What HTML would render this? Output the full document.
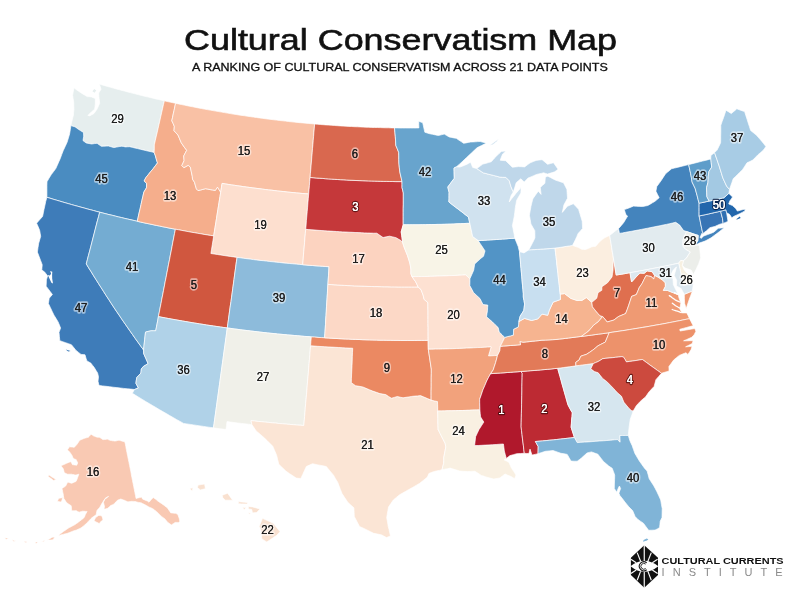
<!DOCTYPE html>
<html><head><meta charset="utf-8"><style>
html,body{margin:0;padding:0;background:#fff;}
body{width:800px;height:600px;overflow:hidden;position:relative;font-family:"Liberation Sans",sans-serif;}
#t{position:absolute;left:0;top:0;will-change:transform;}
.title{position:absolute;left:184px;top:22.5px;font-size:30px;color:#111;white-space:nowrap;letter-spacing:0px;-webkit-text-stroke:0.6px #111;transform:scaleX(1.197);transform-origin:0 0;will-change:transform;}
.sub{position:absolute;left:192px;top:61px;font-size:11px;color:#111;white-space:nowrap;transform:scaleX(1.137);transform-origin:0 0;will-change:transform;-webkit-text-stroke:0.3px #111;}
svg text{font-family:"Liberation Sans",sans-serif;font-size:12.6px;text-anchor:middle;paint-order:stroke;stroke-linejoin:round;}
.lb2{fill:#1e1e1e;stroke:#1e1e1e;stroke-width:0.08px;}
.lw2,.lwb2{fill:#fff;stroke:#fff;stroke-width:0.2px;}
.lb{fill:#1e1e1e;stroke:rgba(255,255,255,0.5);stroke-width:3.4px;}
.lw{fill:#fff;stroke:rgba(60,10,10,0.7);stroke-width:2.6px;}
.lwb{fill:#fff;stroke:rgba(10,25,60,0.8);stroke-width:2.6px;}
</style></head><body>
<div class="title">Cultural Conservatism Map</div>
<div class="sub">A RANKING OF CULTURAL CONSERVATISM ACROSS 21 DATA POINTS</div>
<svg id="t" width="800" height="600" viewBox="0 0 800 600">
<g stroke="rgba(255,255,255,0.9)" stroke-width="0.75" stroke-linejoin="round">
<path fill="#e6eeee" d="M70.9,125.6 71.5,122.8 72.2,119.9 72.8,117.6 73.4,115.3 73.6,112.4 73.9,109.4 73.8,105.7 73.7,102.0 73.1,98.6 72.6,95.3 73.3,91.5 74.0,87.8 76.1,89.5 78.3,91.1 80.5,92.5 82.7,93.9 84.9,95.2 87.2,96.6 89.3,96.7 91.4,96.9 93.3,97.7 95.3,98.4 95.3,101.1 95.3,103.9 95.0,106.5 94.7,109.2 91.4,111.9 87.9,115.4 89.6,115.9 91.8,114.7 94.0,113.5 95.6,111.2 97.1,109.0 98.4,106.1 99.7,103.3 99.3,100.0 98.9,96.7 98.7,93.0 101.0,89.2 100.2,86.6 99.3,84.1 102.1,84.9 104.9,85.7 107.7,86.5 110.5,87.3 113.3,88.1 116.2,88.9 119.0,89.6 121.8,90.4 124.6,91.1 127.5,91.9 130.3,92.6 133.1,93.3 135.9,94.0 138.8,94.8 141.6,95.5 144.4,96.2 147.3,96.8 150.1,97.5 153.0,98.2 155.8,98.9 158.7,99.5 161.5,100.2 164.4,100.8 163.4,104.8 162.5,108.8 161.6,112.8 160.7,116.8 159.8,120.8 158.9,124.8 158.0,128.8 157.1,132.8 156.1,136.9 155.2,140.9 154.3,144.9 154.3,148.9 154.1,152.4 151.4,151.8 148.6,151.2 145.9,150.6 143.2,149.9 140.4,149.3 137.7,148.6 135.0,148.0 132.2,147.3 129.5,146.7 127.4,146.8 125.4,146.9 123.6,146.5 121.8,146.2 119.1,146.6 116.5,147.1 113.8,147.6 111.1,146.8 108.5,146.0 106.1,146.1 103.7,146.2 101.4,146.3 99.2,144.8 97.1,143.3 94.4,143.6 91.7,144.0 89.0,143.5 86.3,143.0 84.6,141.8 83.0,140.6 83.7,136.2 83.5,132.5 80.8,130.8 78.1,129.1 76.6,127.9 75.0,126.8 72.9,126.2 70.9,125.6Z"/>
<path fill="#4a8cc1" d="M70.9,125.6 72.9,126.2 75.0,126.8 76.6,127.9 78.1,129.1 80.8,130.8 83.5,132.5 83.7,136.2 83.0,140.6 84.6,141.8 86.3,143.0 89.0,143.5 91.7,144.0 94.4,143.6 97.1,143.3 99.2,144.8 101.4,146.3 103.7,146.2 106.1,146.1 108.5,146.0 111.1,146.8 113.8,147.6 116.5,147.1 119.1,146.6 121.8,146.2 123.6,146.5 125.4,146.9 127.4,146.8 129.5,146.7 132.2,147.3 135.0,148.0 137.7,148.6 140.4,149.3 143.2,149.9 145.9,150.6 148.6,151.2 151.4,151.8 154.1,152.4 155.4,155.8 156.1,158.5 156.9,161.2 157.5,162.9 155.4,165.7 153.3,168.5 150.7,171.6 148.3,174.6 145.8,177.7 144.1,181.0 146.6,183.3 146.5,187.8 145.1,190.0 143.8,192.2 142.9,196.3 141.9,200.5 141.0,204.6 140.1,208.8 139.1,212.9 138.2,217.1 137.3,221.3 134.1,220.5 131.0,219.8 127.8,219.1 124.7,218.4 121.6,217.6 118.4,216.9 115.3,216.1 112.2,215.3 109.0,214.6 105.9,213.8 102.8,213.0 99.7,212.2 96.5,211.4 93.4,210.5 90.3,209.7 87.2,208.9 84.1,208.0 81.0,207.2 77.9,206.3 74.8,205.5 71.6,204.6 68.5,203.7 65.4,202.8 62.3,201.9 59.3,201.0 56.2,200.1 53.1,199.2 50.0,198.2 46.9,197.3 46.9,193.1 46.9,188.9 46.9,185.3 47.0,181.7 49.1,178.1 51.3,174.5 53.6,171.5 55.8,168.5 57.3,165.2 58.7,162.0 60.2,158.7 61.7,154.6 63.3,150.4 65.2,146.4 67.1,142.3 68.4,138.1 69.6,133.9 70.3,129.7 70.9,125.6Z"/>
<path fill="#3e7cb9" d="M46.9,197.3 50.0,198.2 53.1,199.2 56.2,200.1 59.3,201.0 62.3,201.9 65.4,202.8 68.5,203.7 71.6,204.6 74.8,205.5 77.9,206.3 81.0,207.2 84.1,208.0 87.2,208.9 90.3,209.7 93.4,210.5 96.5,211.4 99.7,212.2 98.6,216.5 97.4,220.8 96.3,225.1 95.2,229.4 94.1,233.7 93.0,238.0 91.9,242.3 90.8,246.6 89.7,250.9 88.5,255.3 87.4,259.6 86.3,263.9 88.7,267.9 91.2,271.8 93.6,275.8 96.1,279.7 98.6,283.7 101.1,287.6 103.6,291.5 106.1,295.5 108.7,299.4 111.2,303.3 113.8,307.3 116.4,311.2 119.1,315.1 121.7,319.0 124.4,322.9 127.1,326.8 129.8,330.7 132.5,334.5 135.2,338.4 138.0,342.3 140.8,346.2 143.6,350.0 143.7,353.7 145.9,358.6 148.1,363.6 145.7,365.1 143.2,366.6 141.3,369.0 140.9,373.1 138.8,375.3 136.8,377.5 136.3,380.4 135.9,383.3 138.4,388.0 134.4,389.5 130.8,389.1 127.3,388.8 123.7,388.4 120.2,388.0 116.7,387.6 113.1,387.2 109.6,386.7 106.0,386.3 102.5,385.9 99.0,385.4 98.0,381.2 98.5,376.8 97.6,372.9 95.9,370.3 94.3,367.6 92.6,365.4 90.8,363.1 88.9,362.0 86.9,360.9 86.0,358.3 85.0,354.8 83.0,354.6 81.0,354.4 78.5,352.4 76.0,350.4 73.7,347.5 71.4,344.7 68.5,343.7 65.6,342.7 62.7,341.7 59.8,340.7 59.4,336.5 59.0,332.3 60.6,328.1 59.4,325.0 58.1,321.9 56.1,318.6 54.0,315.2 52.1,311.3 50.3,307.4 48.4,303.5 48.8,300.9 49.2,298.2 52.4,294.5 50.3,291.7 48.2,288.9 46.1,286.2 46.3,283.0 46.4,279.8 47.6,275.9 46.0,273.8 44.4,271.8 41.8,270.1 42.0,267.4 42.2,264.7 40.6,260.5 39.0,256.3 37.4,252.1 38.0,247.6 38.7,243.2 39.7,239.8 40.7,236.3 40.2,233.4 39.7,230.5 38.2,226.8 36.6,223.2 39.6,219.8 42.6,216.4 43.3,212.9 44.0,209.4 44.9,205.5 45.7,201.6 46.9,197.3Z"/>
<path fill="#74acd2" d="M99.7,212.2 102.8,213.0 105.9,213.8 109.0,214.6 112.2,215.3 115.3,216.1 118.4,216.9 121.6,217.6 124.7,218.4 127.8,219.1 131.0,219.8 134.1,220.5 137.3,221.3 140.4,222.0 143.6,222.7 146.8,223.4 149.9,224.0 153.1,224.7 156.3,225.4 159.5,226.0 162.6,226.7 165.8,227.3 169.0,228.0 172.2,228.6 175.4,229.2 174.5,233.6 173.7,237.9 172.8,242.3 172.0,246.7 171.2,251.0 170.3,255.4 169.5,259.8 168.6,264.1 167.8,268.5 166.9,272.9 166.1,277.3 165.2,281.6 164.4,286.0 163.5,290.4 162.7,294.8 161.8,299.1 161.0,303.5 160.1,307.9 159.3,312.2 158.4,316.6 157.8,320.2 157.1,323.7 156.4,327.3 155.7,330.8 153.4,330.8 151.1,330.8 148.3,331.4 145.5,332.1 145.1,335.7 144.7,339.3 144.3,342.9 143.9,346.5 143.6,350.0 140.8,346.2 138.0,342.3 135.2,338.4 132.5,334.5 129.8,330.7 127.1,326.8 124.4,322.9 121.7,319.0 119.1,315.1 116.4,311.2 113.8,307.3 111.2,303.3 108.7,299.4 106.1,295.5 103.6,291.5 101.1,287.6 98.6,283.7 96.1,279.7 93.6,275.8 91.2,271.8 88.7,267.9 86.3,263.9 87.4,259.6 88.5,255.3 89.7,250.9 90.8,246.6 91.9,242.3 93.0,238.0 94.1,233.7 95.2,229.4 96.3,225.1 97.4,220.8 98.6,216.5 99.7,212.2Z"/>
<path fill="#f5ae8c" d="M164.4,100.8 167.2,101.5 170.0,102.1 172.8,102.7 175.6,103.3 174.8,106.8 174.1,110.3 173.3,113.7 172.6,117.2 171.8,120.7 173.1,123.5 174.3,126.3 174.0,130.7 176.0,132.9 178.0,135.1 179.7,139.0 181.3,142.9 182.8,145.0 184.2,147.1 186.7,150.3 185.2,153.1 183.7,156.0 184.1,160.5 183.0,163.0 181.8,165.5 183.9,167.7 186.0,166.5 188.2,165.3 190.3,167.1 191.3,171.8 192.3,176.5 192.5,179.2 194.5,182.3 195.4,185.6 196.4,188.9 198.0,190.6 200.5,190.0 202.9,189.4 205.4,188.7 207.9,189.1 210.3,189.6 212.8,190.0 215.3,190.4 217.5,187.1 219.1,189.7 220.7,192.2 220.0,196.5 219.3,200.9 218.6,205.3 217.9,209.6 217.2,214.0 216.5,218.4 215.8,222.8 215.1,227.2 214.4,231.6 213.7,235.9 210.5,235.4 207.3,234.9 204.1,234.4 200.9,233.8 197.7,233.3 194.5,232.7 191.3,232.2 188.1,231.6 184.9,231.0 181.8,230.4 178.6,229.8 175.4,229.2 172.2,228.6 169.0,228.0 165.8,227.3 162.6,226.7 159.5,226.0 156.3,225.4 153.1,224.7 149.9,224.0 146.8,223.4 143.6,222.7 140.4,222.0 137.3,221.3 138.2,217.1 139.1,212.9 140.1,208.8 141.0,204.6 141.9,200.5 142.9,196.3 143.8,192.2 145.1,190.0 146.5,187.8 146.6,183.3 144.1,181.0 145.8,177.7 148.3,174.6 150.7,171.6 153.3,168.5 155.4,165.7 157.5,162.9 156.9,161.2 156.1,158.5 155.4,155.8 154.1,152.4 154.3,148.9 154.3,144.9 155.2,140.9 156.1,136.9 157.1,132.8 158.0,128.8 158.9,124.8 159.8,120.8 160.7,116.8 161.6,112.8 162.5,108.8 163.4,104.8 164.4,100.8Z"/>
<path fill="#f9c1a5" d="M175.6,103.3 178.4,103.9 181.3,104.5 184.2,105.1 187.1,105.7 189.9,106.3 192.8,106.8 195.7,107.4 198.6,108.0 201.4,108.5 204.3,109.1 207.2,109.6 210.1,110.1 213.0,110.6 215.8,111.1 218.7,111.6 221.6,112.1 224.5,112.6 227.4,113.1 230.3,113.6 233.2,114.1 236.1,114.5 239.0,115.0 241.9,115.4 244.8,115.8 247.7,116.3 250.6,116.7 253.5,117.1 256.4,117.5 259.3,117.9 262.2,118.3 265.1,118.7 268.0,119.1 270.9,119.4 273.8,119.8 276.7,120.1 279.6,120.5 282.6,120.8 285.5,121.1 288.4,121.5 291.3,121.8 294.2,122.1 297.1,122.4 300.0,122.7 303.0,122.9 305.9,123.2 308.8,123.5 311.7,123.7 314.6,124.0 314.3,128.1 313.9,132.2 313.6,136.3 313.2,140.4 312.9,144.5 312.5,148.6 312.2,152.7 311.8,156.8 311.5,161.0 311.1,165.1 310.8,169.2 310.4,173.3 310.1,177.5 309.7,181.6 309.4,185.7 309.0,189.9 308.7,194.0 305.6,193.7 302.5,193.5 299.4,193.2 296.3,192.9 293.2,192.6 290.1,192.3 287.0,192.0 283.9,191.6 280.8,191.3 277.7,191.0 274.6,190.6 271.5,190.2 268.4,189.9 265.3,189.5 262.2,189.1 259.1,188.7 256.0,188.3 252.9,187.9 249.9,187.5 246.8,187.1 243.7,186.7 240.6,186.2 237.5,185.8 234.4,185.3 231.3,184.9 228.3,184.4 225.2,183.9 222.1,183.4 221.4,187.8 220.7,192.2 219.1,189.7 217.5,187.1 215.3,190.4 212.8,190.0 210.3,189.6 207.9,189.1 205.4,188.7 202.9,189.4 200.5,190.0 198.0,190.6 196.4,188.9 195.4,185.6 194.5,182.3 192.5,179.2 192.3,176.5 191.3,171.8 190.3,167.1 188.2,165.3 186.0,166.5 183.9,167.7 181.8,165.5 183.0,163.0 184.1,160.5 183.7,156.0 185.2,153.1 186.7,150.3 184.2,147.1 182.8,145.0 181.3,142.9 179.7,139.0 178.0,135.1 176.0,132.9 174.0,130.7 174.3,126.3 173.1,123.5 171.8,120.7 172.6,117.2 173.3,113.7 174.1,110.3 174.8,106.8 175.6,103.3Z"/>
<path fill="#fddfcf" d="M220.7,192.2 221.4,187.8 222.1,183.4 225.2,183.9 228.3,184.4 231.3,184.9 234.4,185.3 237.5,185.8 240.6,186.2 243.7,186.7 246.8,187.1 249.9,187.5 252.9,187.9 256.0,188.3 259.1,188.7 262.2,189.1 265.3,189.5 268.4,189.9 271.5,190.2 274.6,190.6 277.7,191.0 280.8,191.3 283.9,191.6 287.0,192.0 290.1,192.3 293.2,192.6 296.3,192.9 299.4,193.2 302.5,193.5 305.6,193.7 308.7,194.0 308.3,198.4 307.9,202.8 307.6,207.2 307.2,211.6 306.8,216.0 306.4,220.5 306.1,224.9 305.7,229.3 305.3,233.7 304.9,238.1 304.6,242.6 304.2,247.0 303.8,251.4 303.4,255.9 303.1,260.3 302.7,264.7 299.4,264.4 296.1,264.1 292.8,263.8 289.5,263.5 286.2,263.2 283.0,262.9 279.7,262.5 276.4,262.2 273.1,261.8 269.8,261.5 266.5,261.1 263.3,260.7 260.0,260.4 256.7,260.0 253.4,259.6 250.1,259.1 246.9,258.7 243.6,258.3 240.3,257.8 237.1,257.4 233.8,256.9 230.5,256.5 227.2,256.0 224.0,255.5 220.7,255.0 217.4,254.5 214.2,254.0 210.9,253.5 211.6,249.1 212.3,244.7 213.0,240.3 213.7,235.9 214.4,231.6 215.1,227.2 215.8,222.8 216.5,218.4 217.2,214.0 217.9,209.6 218.6,205.3 219.3,200.9 220.0,196.5 220.7,192.2Z"/>
<path fill="#d0573f" d="M175.4,229.2 178.6,229.8 181.8,230.4 184.9,231.0 188.1,231.6 191.3,232.2 194.5,232.7 197.7,233.3 200.9,233.8 204.1,234.4 207.3,234.9 210.5,235.4 213.7,235.9 213.0,240.3 212.3,244.7 211.6,249.1 210.9,253.5 214.2,254.0 217.4,254.5 220.7,255.0 224.0,255.5 227.2,256.0 230.5,256.5 233.8,256.9 237.1,257.4 236.4,261.8 235.8,266.2 235.2,270.6 234.6,275.0 234.0,279.4 233.4,283.9 232.8,288.3 232.2,292.7 231.6,297.1 231.0,301.5 230.3,305.9 229.7,310.3 229.1,314.7 228.5,319.2 227.9,323.6 227.3,328.0 223.8,327.5 220.4,327.0 216.9,326.5 213.5,326.0 210.0,325.5 206.6,325.0 203.1,324.4 199.7,323.9 196.2,323.3 192.8,322.8 189.4,322.2 185.9,321.6 182.5,321.0 179.0,320.4 175.6,319.8 172.2,319.2 168.7,318.6 165.3,317.9 161.9,317.3 158.4,316.6 159.3,312.2 160.1,307.9 161.0,303.5 161.8,299.1 162.7,294.8 163.5,290.4 164.4,286.0 165.2,281.6 166.1,277.3 166.9,272.9 167.8,268.5 168.6,264.1 169.5,259.8 170.3,255.4 171.2,251.0 172.0,246.7 172.8,242.3 173.7,237.9 174.5,233.6 175.4,229.2Z"/>
<path fill="#8dbbdb" d="M237.1,257.4 240.3,257.8 243.6,258.3 246.9,258.7 250.1,259.1 253.4,259.6 256.7,260.0 260.0,260.4 263.3,260.7 266.5,261.1 269.8,261.5 273.1,261.8 276.4,262.2 279.7,262.5 283.0,262.9 286.2,263.2 289.5,263.5 292.8,263.8 296.1,264.1 299.4,264.4 302.7,264.7 306.0,265.0 309.3,265.3 312.6,265.5 315.9,265.8 319.2,266.0 322.4,266.2 325.7,266.5 329.0,266.7 328.8,271.1 328.5,275.6 328.2,280.0 327.9,284.4 327.6,288.9 327.4,293.3 327.1,297.8 326.8,302.2 326.5,306.7 326.3,311.1 326.0,315.6 325.7,320.0 325.5,324.5 325.2,328.9 324.9,333.4 324.6,337.8 321.3,337.6 318.0,337.4 314.6,337.1 311.3,336.9 307.9,336.6 304.5,336.4 301.2,336.1 297.8,335.8 294.4,335.5 291.1,335.2 287.7,334.9 284.3,334.6 281.0,334.3 277.6,334.0 274.3,333.6 270.9,333.3 267.5,332.9 264.2,332.6 260.8,332.2 257.5,331.8 254.1,331.4 250.8,331.0 247.4,330.6 244.0,330.2 240.7,329.8 237.3,329.3 234.0,328.9 230.6,328.4 227.3,328.0 227.9,323.6 228.5,319.2 229.1,314.7 229.7,310.3 230.3,305.9 231.0,301.5 231.6,297.1 232.2,292.7 232.8,288.3 233.4,283.9 234.0,279.4 234.6,275.0 235.2,270.6 235.8,266.2 236.4,261.8 237.1,257.4Z"/>
<path fill="#b0d2e8" d="M158.4,316.6 161.9,317.3 165.3,317.9 168.7,318.6 172.2,319.2 175.6,319.8 179.0,320.4 182.5,321.0 185.9,321.6 189.4,322.2 192.8,322.8 196.2,323.3 199.7,323.9 203.1,324.4 206.6,325.0 210.0,325.5 213.5,326.0 216.9,326.5 220.4,327.0 223.8,327.5 227.3,328.0 226.7,332.3 226.1,336.7 225.5,341.0 224.9,345.4 224.3,349.7 223.7,354.1 223.1,358.4 222.5,362.8 221.9,367.1 221.3,371.5 220.7,375.8 220.1,380.2 219.5,384.5 218.9,388.8 218.3,393.2 217.7,397.5 217.1,401.9 216.5,406.2 215.9,410.5 215.3,414.9 214.7,419.2 214.1,423.5 213.5,427.8 210.2,427.4 206.8,426.9 203.5,426.4 200.2,425.9 196.8,425.4 193.5,424.9 190.2,424.4 186.8,423.9 183.5,423.4 180.0,421.4 176.5,419.5 173.1,417.5 169.6,415.5 166.2,413.5 162.8,411.6 159.3,409.6 155.9,407.5 152.5,405.5 149.1,403.5 145.7,401.5 142.3,399.4 139.0,397.4 135.6,395.3 132.3,393.3 134.4,389.5 138.4,388.0 135.9,383.3 136.3,380.4 136.8,377.5 138.8,375.3 140.9,373.1 141.3,369.0 143.2,366.6 145.7,365.1 148.1,363.6 145.9,358.6 143.7,353.7 143.6,350.0 143.9,346.5 144.3,342.9 144.7,339.3 145.1,335.7 145.5,332.1 148.3,331.4 151.1,330.8 153.4,330.8 155.7,330.8 156.4,327.3 157.1,323.7 157.8,320.2 158.4,316.6Z"/>
<path fill="#f0f0e9" d="M227.3,328.0 230.6,328.4 234.0,328.9 237.3,329.3 240.7,329.8 244.0,330.2 247.4,330.6 250.8,331.0 254.1,331.4 257.5,331.8 260.8,332.2 264.2,332.6 267.5,332.9 270.9,333.3 274.3,333.6 277.6,334.0 281.0,334.3 284.3,334.6 287.7,334.9 291.1,335.2 294.4,335.5 297.8,335.8 301.2,336.1 304.5,336.4 307.9,336.6 311.3,336.9 310.9,341.3 310.6,345.8 310.2,350.2 309.9,354.6 309.5,359.1 309.1,363.5 308.7,368.0 308.4,372.4 308.0,376.8 307.6,381.3 307.2,385.7 306.9,390.1 306.5,394.5 306.1,399.0 305.7,403.4 305.3,407.8 305.0,412.2 304.6,416.7 304.2,421.1 303.8,425.5 300.3,425.2 296.8,425.0 293.3,424.7 289.7,424.4 286.2,424.1 282.7,423.8 279.2,423.5 275.7,423.1 272.1,422.8 268.6,422.4 265.1,422.1 261.6,421.7 258.1,421.4 254.6,421.0 251.0,420.6 251.9,424.6 248.4,424.2 244.8,423.8 241.3,423.4 237.7,423.0 234.1,422.5 230.6,422.1 227.0,421.6 226.5,425.6 226.0,429.5 222.9,429.1 219.8,428.7 216.6,428.3 213.5,427.8 214.1,423.5 214.7,419.2 215.3,414.9 215.9,410.5 216.5,406.2 217.1,401.9 217.7,397.5 218.3,393.2 218.9,388.8 219.5,384.5 220.1,380.2 220.7,375.8 221.3,371.5 221.9,367.1 222.5,362.8 223.1,358.4 223.7,354.1 224.3,349.7 224.9,345.4 225.5,341.0 226.1,336.7 226.7,332.3 227.3,328.0Z"/>
<path fill="#fbe5d5" d="M251.9,424.6 251.0,420.6 254.6,421.0 258.1,421.4 261.6,421.7 265.1,422.1 268.6,422.4 272.1,422.8 275.7,423.1 279.2,423.5 282.7,423.8 286.2,424.1 289.7,424.4 293.3,424.7 296.8,425.0 300.3,425.2 303.8,425.5 304.2,421.1 304.6,416.7 305.0,412.2 305.3,407.8 305.7,403.4 306.1,399.0 306.5,394.5 306.9,390.1 307.2,385.7 307.6,381.3 308.0,376.8 308.4,372.4 308.7,368.0 309.1,363.5 309.5,359.1 309.9,354.6 310.2,350.2 310.6,345.8 314.1,346.0 317.6,346.3 321.1,346.5 324.6,346.7 328.1,346.9 331.7,347.1 335.2,347.3 338.7,347.5 342.2,347.7 345.7,347.9 349.2,348.1 352.7,348.2 352.5,352.5 352.3,356.8 352.2,361.2 352.0,365.5 351.8,369.8 351.6,374.1 351.4,378.4 351.3,382.7 353.4,384.2 355.5,385.7 359.1,386.3 362.7,386.9 366.0,388.3 369.3,389.7 372.7,391.1 376.3,392.3 379.9,393.6 382.8,394.1 385.7,394.6 388.5,396.4 391.4,398.2 394.3,397.4 397.3,396.5 400.2,397.2 403.1,397.8 406.0,397.3 408.9,396.9 411.8,396.4 414.7,396.1 417.6,395.9 420.5,395.6 424.0,397.1 427.6,398.6 431.1,400.1 434.3,400.9 437.5,401.6 437.6,404.7 437.7,407.9 437.7,411.0 437.8,414.7 437.9,418.3 437.9,422.0 438.0,425.6 438.1,429.3 439.7,432.7 441.4,436.1 443.2,439.6 445.0,443.1 445.8,446.7 445.2,450.2 444.5,453.8 443.8,457.3 443.8,460.3 443.7,463.3 442.8,466.5 442.0,469.7 439.2,470.4 436.3,471.0 433.4,471.7 431.2,472.6 428.9,473.5 427.4,477.1 423.6,480.2 419.7,483.3 416.1,485.4 412.5,487.5 408.9,489.5 405.8,491.3 402.7,493.0 399.6,494.8 396.4,497.4 393.3,500.0 390.9,503.5 388.5,507.0 387.9,510.5 387.3,514.0 386.7,517.5 387.5,521.9 388.2,526.3 389.0,529.5 389.7,532.7 390.5,535.9 386.5,537.6 384.1,536.3 381.7,534.9 377.7,534.1 373.7,533.3 370.6,531.8 367.4,530.2 363.5,528.3 359.5,526.5 357.8,523.2 356.1,519.9 354.3,516.6 354.1,512.2 353.9,507.8 350.8,505.1 347.8,502.3 344.8,497.8 341.9,493.3 340.5,489.7 339.1,486.1 337.8,482.5 335.6,478.9 333.5,475.2 329.9,470.9 326.3,466.5 322.9,465.8 319.5,465.2 316.0,464.5 312.6,463.7 309.5,465.1 306.3,466.5 304.5,470.5 302.7,474.5 300.8,478.5 298.5,478.3 296.2,478.1 292.8,475.8 289.3,473.5 285.9,471.1 282.4,467.7 278.8,464.3 277.7,459.8 276.6,455.2 274.7,450.8 272.8,446.3 270.1,443.6 267.3,440.8 264.5,438.1 261.8,435.7 259.0,433.3 256.2,431.0 254.1,427.8 251.9,424.6Z"/>
<path fill="#eb8962" d="M311.3,336.9 314.6,337.1 318.0,337.4 321.3,337.6 324.6,337.8 328.1,338.0 331.5,338.2 335.0,338.4 338.4,338.6 341.9,338.8 345.3,339.0 348.8,339.1 352.2,339.3 355.7,339.4 359.1,339.5 362.6,339.7 366.0,339.8 369.5,339.9 372.9,340.0 376.4,340.1 379.8,340.2 383.3,340.2 386.7,340.3 390.2,340.3 393.6,340.4 397.1,340.4 400.5,340.5 404.0,340.5 407.5,340.5 410.9,340.5 414.4,340.5 417.8,340.4 421.3,340.4 424.7,340.4 428.2,340.3 428.2,344.8 428.3,349.2 428.9,353.2 429.5,357.1 430.1,361.1 430.7,365.0 431.3,369.0 431.3,373.4 431.2,377.9 431.2,382.3 431.2,386.8 431.1,391.2 431.1,395.7 431.1,400.1 427.6,398.6 424.0,397.1 420.5,395.6 417.6,395.9 414.7,396.1 411.8,396.4 408.9,396.9 406.0,397.3 403.1,397.8 400.2,397.2 397.3,396.5 394.3,397.4 391.4,398.2 388.5,396.4 385.7,394.6 382.8,394.1 379.9,393.6 376.3,392.3 372.7,391.1 369.3,389.7 366.0,388.3 362.7,386.9 359.1,386.3 355.5,385.7 353.4,384.2 351.3,382.7 351.4,378.4 351.6,374.1 351.8,369.8 352.0,365.5 352.2,361.2 352.3,356.8 352.5,352.5 352.7,348.2 349.2,348.1 345.7,347.9 342.2,347.7 338.7,347.5 335.2,347.3 331.7,347.1 328.1,346.9 324.6,346.7 321.1,346.5 317.6,346.3 314.1,346.0 310.6,345.8 310.9,341.3 311.3,336.9Z"/>
<path fill="#fcd8c6" d="M324.6,337.8 324.9,333.4 325.2,328.9 325.5,324.5 325.7,320.0 326.0,315.6 326.3,311.1 326.5,306.7 326.8,302.2 327.1,297.8 327.4,293.3 327.6,288.9 327.9,284.4 331.2,284.6 334.6,284.8 337.9,285.0 341.3,285.2 344.6,285.4 347.9,285.6 351.3,285.7 354.6,285.9 358.0,286.0 361.3,286.1 364.6,286.2 368.0,286.4 371.3,286.5 374.7,286.6 378.0,286.6 381.4,286.7 384.7,286.8 388.0,286.8 391.4,286.9 394.7,286.9 398.1,287.0 401.4,287.0 404.8,287.0 408.1,287.0 411.5,287.0 414.8,287.0 418.1,287.0 421.0,289.6 422.0,292.3 423.1,295.0 424.1,299.4 426.0,301.0 427.9,302.6 427.9,306.8 428.0,311.0 428.0,315.1 428.0,319.3 428.0,323.5 428.1,327.7 428.1,331.9 428.1,336.1 428.2,340.3 424.7,340.4 421.3,340.4 417.8,340.4 414.4,340.5 410.9,340.5 407.5,340.5 404.0,340.5 400.5,340.5 397.1,340.4 393.6,340.4 390.2,340.3 386.7,340.3 383.3,340.2 379.8,340.2 376.4,340.1 372.9,340.0 369.5,339.9 366.0,339.8 362.6,339.7 359.1,339.5 355.7,339.4 352.2,339.3 348.8,339.1 345.3,339.0 341.9,338.8 338.4,338.6 335.0,338.4 331.5,338.2 328.1,338.0 324.6,337.8Z"/>
<path fill="#fcd3c0" d="M305.7,229.3 305.3,233.7 304.9,238.1 304.6,242.6 304.2,247.0 303.8,251.4 303.4,255.9 303.1,260.3 302.7,264.7 306.0,265.0 309.3,265.3 312.6,265.5 315.9,265.8 319.2,266.0 322.4,266.2 325.7,266.5 329.0,266.7 328.8,271.1 328.5,275.6 328.2,280.0 327.9,284.4 331.2,284.6 334.6,284.8 337.9,285.0 341.3,285.2 344.6,285.4 347.9,285.6 351.3,285.7 354.6,285.9 358.0,286.0 361.3,286.1 364.6,286.2 368.0,286.4 371.3,286.5 374.7,286.6 378.0,286.6 381.4,286.7 384.7,286.8 388.0,286.8 391.4,286.9 394.7,286.9 398.1,287.0 401.4,287.0 404.8,287.0 408.1,287.0 411.5,287.0 414.8,287.0 418.1,287.0 416.9,284.3 415.6,281.7 413.8,279.2 412.0,276.7 410.9,273.7 410.9,269.2 410.4,266.1 409.8,263.0 408.7,259.4 407.6,255.9 406.0,251.9 404.4,247.9 403.5,245.3 402.7,242.7 401.2,240.7 398.6,239.2 396.0,237.7 392.8,236.9 389.6,236.2 386.4,236.8 383.1,237.5 380.0,235.4 376.8,233.2 373.7,233.2 370.6,233.1 367.5,233.0 364.4,232.9 361.3,232.7 358.2,232.6 355.1,232.5 352.1,232.3 349.0,232.2 345.9,232.0 342.8,231.9 339.7,231.7 336.6,231.5 333.5,231.3 330.4,231.1 327.3,230.9 324.2,230.7 321.1,230.5 318.0,230.3 315.0,230.0 311.9,229.8 308.8,229.6 305.7,229.3Z"/>
<path fill="#c5383a" d="M308.7,194.0 309.0,189.9 309.4,185.7 309.7,181.6 310.1,177.5 313.2,177.7 316.2,178.0 319.3,178.2 322.3,178.4 325.4,178.7 328.5,178.9 331.5,179.1 334.6,179.3 337.6,179.5 340.7,179.7 343.8,179.8 346.8,180.0 349.9,180.2 353.0,180.3 356.0,180.5 359.1,180.6 362.1,180.7 365.2,180.8 368.3,180.9 371.3,181.0 374.4,181.1 377.5,181.2 380.5,181.3 383.6,181.4 386.7,181.4 389.7,181.5 392.8,181.5 395.9,181.6 399.0,181.6 402.0,181.6 402.0,184.6 402.0,187.6 402.7,190.3 403.3,192.9 403.3,196.9 403.3,200.9 403.3,204.9 403.2,208.8 403.2,212.8 403.2,216.8 403.2,220.8 403.2,224.8 402.2,228.3 401.2,231.9 401.7,235.5 402.2,239.1 402.7,242.7 401.2,240.7 398.6,239.2 396.0,237.7 392.8,236.9 389.6,236.2 386.4,236.8 383.1,237.5 380.0,235.4 376.8,233.2 373.7,233.2 370.6,233.1 367.5,233.0 364.4,232.9 361.3,232.7 358.2,232.6 355.1,232.5 352.1,232.3 349.0,232.2 345.9,232.0 342.8,231.9 339.7,231.7 336.6,231.5 333.5,231.3 330.4,231.1 327.3,230.9 324.2,230.7 321.1,230.5 318.0,230.3 315.0,230.0 311.9,229.8 308.8,229.6 305.7,229.3 306.1,224.9 306.4,220.5 306.8,216.0 307.2,211.6 307.6,207.2 307.9,202.8 308.3,198.4 308.7,194.0Z"/>
<path fill="#d9684f" d="M314.6,124.0 317.5,124.2 320.3,124.5 323.2,124.7 326.0,124.9 328.9,125.1 331.7,125.3 334.6,125.5 337.4,125.7 340.3,125.9 343.1,126.1 346.0,126.2 348.8,126.4 351.7,126.5 354.5,126.7 357.4,126.8 360.2,126.9 363.1,127.1 365.9,127.2 368.8,127.3 371.6,127.4 374.5,127.5 377.4,127.5 380.2,127.6 383.1,127.7 385.9,127.8 388.8,127.8 391.6,127.9 394.5,127.9 394.9,132.3 395.3,136.6 395.6,141.0 395.8,145.4 397.3,148.9 398.7,152.4 398.8,155.9 398.8,159.4 398.9,163.0 399.3,167.4 399.8,171.8 400.5,175.0 401.3,178.3 402.0,181.6 399.0,181.6 395.9,181.6 392.8,181.5 389.7,181.5 386.7,181.4 383.6,181.4 380.5,181.3 377.5,181.2 374.4,181.1 371.3,181.0 368.3,180.9 365.2,180.8 362.1,180.7 359.1,180.6 356.0,180.5 353.0,180.3 349.9,180.2 346.8,180.0 343.8,179.8 340.7,179.7 337.6,179.5 334.6,179.3 331.5,179.1 328.5,178.9 325.4,178.7 322.3,178.4 319.3,178.2 316.2,178.0 313.2,177.7 310.1,177.5 310.4,173.3 310.8,169.2 311.1,165.1 311.5,161.0 311.8,156.8 312.2,152.7 312.5,148.6 312.9,144.5 313.2,140.4 313.6,136.3 313.9,132.2 314.3,128.1 314.6,124.0Z"/>
<path fill="#68a4cd" d="M394.5,127.9 397.2,127.9 399.9,128.0 402.6,128.0 405.3,128.0 408.0,128.0 410.7,128.0 413.4,128.0 416.2,128.0 418.9,127.9 418.8,124.6 418.8,121.3 420.7,122.0 422.7,122.7 423.4,125.9 424.1,129.1 424.8,132.2 427.2,133.0 429.5,133.7 432.5,134.3 435.4,134.9 438.4,135.5 441.3,134.8 444.3,134.1 446.7,135.5 449.1,136.9 451.5,137.4 453.9,137.9 456.3,138.3 458.7,140.0 461.2,141.6 463.6,143.3 466.0,142.9 468.3,142.4 470.7,142.0 473.1,141.9 475.4,141.8 477.8,141.6 480.2,141.5 483.2,142.3 486.3,143.2 484.0,144.3 481.6,145.5 479.3,146.6 477.0,147.8 474.3,150.3 471.7,152.8 469.0,155.3 466.7,157.4 464.4,159.6 462.1,161.8 459.2,164.4 456.3,166.9 454.0,168.1 454.1,171.5 454.2,174.9 454.3,178.3 452.1,181.2 450.0,184.1 447.8,187.0 448.4,189.6 449.1,192.3 449.0,195.5 449.0,198.7 448.9,202.0 452.1,204.5 455.4,207.1 458.3,209.2 461.2,211.4 463.6,213.3 466.0,215.2 468.5,217.1 469.1,220.2 469.8,223.3 466.6,223.4 463.4,223.6 460.3,223.7 457.1,223.8 453.9,224.0 450.8,224.1 447.6,224.2 444.4,224.3 441.2,224.4 438.1,224.4 434.9,224.5 431.7,224.6 428.6,224.6 425.4,224.7 422.2,224.7 419.0,224.8 415.9,224.8 412.7,224.8 409.5,224.8 406.3,224.8 403.2,224.8 403.2,220.8 403.2,216.8 403.2,212.8 403.2,208.8 403.3,204.9 403.3,200.9 403.3,196.9 403.3,192.9 402.7,190.3 402.0,187.6 402.0,184.6 402.0,181.6 401.3,178.3 400.5,175.0 399.8,171.8 399.3,167.4 398.9,163.0 398.8,159.4 398.8,155.9 398.7,152.4 397.3,148.9 395.8,145.4 395.6,141.0 395.3,136.6 394.9,132.3 394.5,127.9Z"/>
<path fill="#f8f4e7" d="M403.2,224.8 406.3,224.8 409.5,224.8 412.7,224.8 415.9,224.8 419.0,224.8 422.2,224.7 425.4,224.7 428.6,224.6 431.7,224.6 434.9,224.5 438.1,224.4 441.2,224.4 444.4,224.3 447.6,224.2 450.8,224.1 453.9,224.0 457.1,223.8 460.3,223.7 463.4,223.6 466.6,223.4 469.8,223.3 470.4,225.9 470.9,228.5 471.8,232.5 472.6,236.4 475.4,238.5 478.2,240.6 479.9,243.2 481.6,245.7 483.3,248.3 485.0,250.9 484.3,253.6 483.5,256.3 481.0,258.2 477.9,261.1 474.7,263.9 474.2,267.1 473.7,270.2 471.8,274.5 469.9,278.8 467.8,276.8 465.6,274.9 462.4,275.1 459.3,275.2 456.1,275.4 453.0,275.5 449.8,275.6 446.7,275.8 443.5,275.9 440.4,276.0 437.2,276.1 434.1,276.2 430.9,276.3 427.7,276.4 424.6,276.5 421.4,276.5 418.3,276.6 415.1,276.6 412.0,276.7 410.9,273.7 410.9,269.2 410.4,266.1 409.8,263.0 408.7,259.4 407.6,255.9 406.0,251.9 404.4,247.9 403.5,245.3 402.7,242.7 402.2,239.1 401.7,235.5 401.2,231.9 402.2,228.3 403.2,224.8Z"/>
<path fill="#fde1d2" d="M412.0,276.7 415.1,276.6 418.3,276.6 421.4,276.5 424.6,276.5 427.7,276.4 430.9,276.3 434.1,276.2 437.2,276.1 440.4,276.0 443.5,275.9 446.7,275.8 449.8,275.6 453.0,275.5 456.1,275.4 459.3,275.2 462.4,275.1 465.6,274.9 467.8,276.8 469.9,278.8 469.9,282.2 469.8,285.6 471.7,289.0 473.5,292.5 476.7,295.5 479.9,298.4 481.5,301.5 483.0,304.5 485.4,304.8 487.8,305.1 487.6,307.8 487.5,310.5 487.0,313.6 486.5,316.8 489.4,319.3 492.3,321.8 495.2,324.7 498.2,327.6 499.2,332.0 502.0,334.7 504.7,337.4 502.7,341.6 500.3,346.3 499.8,350.8 497.5,355.4 494.5,355.6 491.5,355.8 488.5,355.9 489.8,351.4 491.1,346.9 487.6,347.1 484.1,347.3 480.6,347.5 477.1,347.6 473.6,347.8 470.2,348.0 466.7,348.1 463.2,348.3 459.7,348.4 456.2,348.5 452.7,348.7 449.2,348.8 445.7,348.9 442.3,349.0 438.8,349.1 435.3,349.1 431.8,349.2 428.3,349.2 428.2,344.8 428.2,340.3 428.1,336.1 428.1,331.9 428.1,327.7 428.0,323.5 428.0,319.3 428.0,315.1 428.0,311.0 427.9,306.8 427.9,302.6 426.0,301.0 424.1,299.4 423.1,295.0 422.0,292.3 421.0,289.6 418.1,287.0 416.9,284.3 415.6,281.7 413.8,279.2 412.0,276.7Z"/>
<path fill="#f2a27c" d="M428.3,349.2 431.8,349.2 435.3,349.1 438.8,349.1 442.3,349.0 445.7,348.9 449.2,348.8 452.7,348.7 456.2,348.5 459.7,348.4 463.2,348.3 466.7,348.1 470.2,348.0 473.6,347.8 477.1,347.6 480.6,347.5 484.1,347.3 487.6,347.1 491.1,346.9 489.8,351.4 488.5,355.9 491.5,355.8 494.5,355.6 497.5,355.4 496.6,359.0 495.6,362.6 494.4,366.3 493.2,369.9 490.6,373.7 488.6,377.3 486.7,381.0 484.8,385.6 482.8,390.1 481.3,394.7 479.7,399.2 479.7,402.8 479.8,406.3 479.9,409.9 476.4,410.0 472.9,410.1 469.4,410.3 465.9,410.4 462.3,410.5 458.8,410.6 455.3,410.7 451.8,410.8 448.3,410.8 444.8,410.9 441.2,411.0 437.7,411.0 437.7,407.9 437.6,404.7 437.5,401.6 434.3,400.9 431.1,400.1 431.1,395.7 431.1,391.2 431.2,386.8 431.2,382.3 431.2,377.9 431.3,373.4 431.3,369.0 430.7,365.0 430.1,361.1 429.5,357.1 428.9,353.2 428.3,349.2Z"/>
<path fill="#f9f0e2" d="M437.7,411.0 441.2,411.0 444.8,410.9 448.3,410.8 451.8,410.8 455.3,410.7 458.8,410.6 462.3,410.5 465.9,410.4 469.4,410.3 472.9,410.1 476.4,410.0 479.9,409.9 480.2,413.4 480.6,416.9 482.2,419.5 483.8,422.1 481.4,425.8 479.0,429.5 477.3,433.1 475.6,436.7 475.1,441.2 474.6,445.6 478.2,445.5 481.8,445.3 485.4,445.1 489.0,444.9 492.6,444.7 496.2,444.5 499.8,444.2 503.4,444.0 503.9,447.5 504.3,451.0 505.3,454.7 506.3,458.4 504.1,459.9 506.5,461.1 508.9,462.3 510.2,465.3 511.6,468.3 513.8,471.6 516.0,475.0 514.7,478.7 510.6,476.3 507.8,475.2 505.1,474.0 502.5,475.9 499.9,477.9 496.9,478.5 493.8,479.1 489.9,478.0 485.9,476.9 483.6,476.1 481.2,475.4 478.1,473.3 474.9,471.3 471.1,471.4 467.2,471.6 463.4,471.3 459.5,471.0 456.4,470.0 453.3,469.1 450.2,468.1 447.5,468.7 444.7,469.2 442.0,469.7 442.8,466.5 443.7,463.3 443.8,460.3 443.8,457.3 444.5,453.8 445.2,450.2 445.8,446.7 445.0,443.1 443.2,439.6 441.4,436.1 439.7,432.7 438.1,429.3 438.0,425.6 437.9,422.0 437.9,418.3 437.8,414.7 437.7,411.0Z"/>
<path fill="#b0182c" d="M490.6,373.7 493.9,373.4 497.2,373.2 500.6,373.0 503.9,372.8 507.2,372.5 510.6,372.3 513.9,372.0 517.3,371.8 520.6,371.5 522.2,373.2 522.1,377.6 522.0,382.1 521.9,386.6 521.9,391.0 521.8,395.5 521.7,400.0 521.6,404.4 521.5,408.9 521.4,413.4 521.3,417.8 521.2,422.3 521.1,426.7 521.5,430.5 522.0,434.3 522.4,438.1 522.9,441.9 523.4,445.7 523.8,449.5 524.3,453.3 520.5,453.5 516.7,453.7 513.3,454.7 510.0,455.6 506.3,458.4 505.3,454.7 504.3,451.0 503.9,447.5 503.4,444.0 499.8,444.2 496.2,444.5 492.6,444.7 489.0,444.9 485.4,445.1 481.8,445.3 478.2,445.5 474.6,445.6 475.1,441.2 475.6,436.7 477.3,433.1 479.0,429.5 481.4,425.8 483.8,422.1 482.2,419.5 480.6,416.9 480.2,413.4 479.9,409.9 479.8,406.3 479.7,402.8 479.7,399.2 481.3,394.7 482.8,390.1 484.8,385.6 486.7,381.0 488.6,377.3 490.6,373.7Z"/>
<path fill="#bd2a33" d="M520.6,371.5 524.0,371.3 527.3,371.0 530.7,370.7 534.1,370.5 537.5,370.2 540.9,369.9 544.2,369.6 547.6,369.3 551.0,369.0 554.3,368.6 557.7,368.3 558.8,372.4 560.0,376.5 561.1,380.5 562.2,384.6 563.4,388.7 564.5,392.7 565.7,396.8 566.8,400.8 568.0,404.9 570.1,408.9 572.3,412.8 572.0,416.4 571.6,420.0 571.4,423.6 571.1,427.2 572.2,430.7 573.3,434.1 574.4,437.5 570.9,437.9 567.3,438.3 563.8,438.7 560.3,439.1 556.7,439.5 553.2,439.9 549.6,440.2 546.1,440.6 542.5,440.9 539.0,441.2 535.4,441.5 536.8,444.1 538.2,446.6 538.1,450.2 538.0,453.7 535.0,454.4 532.0,455.1 531.0,452.1 530.0,449.1 528.9,453.6 526.6,453.5 524.3,453.3 523.8,449.5 523.4,445.7 522.9,441.9 522.4,438.1 522.0,434.3 521.5,430.5 521.1,426.7 521.2,422.3 521.3,417.8 521.4,413.4 521.5,408.9 521.6,404.4 521.7,400.0 521.8,395.5 521.9,391.0 521.9,386.6 522.0,382.1 522.1,377.6 522.2,373.2 520.6,371.5Z"/>
<path fill="#d6e6ef" d="M557.7,368.3 560.8,367.9 563.8,367.5 566.8,367.1 569.9,366.7 572.9,366.3 575.9,365.8 579.4,365.4 582.8,364.9 586.3,364.5 589.8,364.0 593.3,363.6 592.0,366.2 590.8,368.8 594.3,371.5 598.2,372.8 600.4,375.6 602.6,378.4 605.1,380.3 607.5,382.2 610.4,385.2 613.3,388.2 615.2,390.3 617.2,392.5 621.5,396.3 622.7,399.3 623.9,402.2 626.2,405.0 628.5,407.8 631.2,410.4 633.2,411.0 631.8,415.1 630.3,419.2 629.7,422.8 629.2,426.5 628.7,431.0 628.3,435.4 625.5,435.5 622.7,435.5 619.9,435.5 620.0,438.8 620.1,442.2 617.4,439.6 614.4,439.8 610.7,440.2 606.9,440.5 603.2,440.8 599.5,441.0 595.8,441.3 592.0,441.6 588.3,441.9 584.6,442.1 580.9,442.3 577.2,442.6 575.8,440.1 574.4,437.5 573.3,434.1 572.2,430.7 571.1,427.2 571.4,423.6 571.6,420.0 572.0,416.4 572.3,412.8 570.1,408.9 568.0,404.9 566.8,400.8 565.7,396.8 564.5,392.7 563.4,388.7 562.2,384.6 561.1,380.5 560.0,376.5 558.8,372.4 557.7,368.3Z"/>
<path fill="#80b4d7" d="M538.0,453.7 538.1,450.2 538.2,446.6 536.8,444.1 535.4,441.5 539.0,441.2 542.5,440.9 546.1,440.6 549.6,440.2 553.2,439.9 556.7,439.5 560.3,439.1 563.8,438.7 567.3,438.3 570.9,437.9 574.4,437.5 575.8,440.1 577.2,442.6 580.9,442.3 584.6,442.1 588.3,441.9 592.0,441.6 595.8,441.3 599.5,441.0 603.2,440.8 606.9,440.5 610.7,440.2 614.4,439.8 617.4,439.6 620.1,442.2 620.0,438.8 619.9,435.5 622.7,435.5 625.5,435.5 628.3,435.4 629.1,438.1 629.9,440.7 631.0,443.2 632.2,445.7 633.5,449.6 634.9,453.4 637.0,457.0 639.2,460.7 641.7,464.3 644.3,467.9 647.1,471.1 648.2,474.9 649.2,478.7 651.3,482.0 653.4,485.2 655.2,488.4 656.9,491.7 658.8,495.8 660.7,500.0 661.4,504.3 662.2,508.6 662.1,513.0 662.0,517.5 660.2,521.3 659.9,524.5 659.6,527.6 657.4,528.9 655.1,530.1 651.9,530.2 648.6,530.3 646.0,526.7 643.4,523.2 640.7,521.4 638.0,519.6 635.1,516.5 633.9,513.6 632.6,510.6 628.8,506.8 626.9,504.4 624.9,502.0 622.5,498.8 620.0,495.7 618.9,493.2 620.6,488.5 619.4,486.0 618.0,488.8 616.8,492.2 614.3,488.5 614.4,484.0 614.6,479.6 614.7,475.1 613.5,471.7 612.2,468.3 608.8,466.1 606.2,463.8 603.5,461.5 600.7,457.9 597.9,454.2 594.7,453.1 591.5,451.9 589.2,452.4 587.0,453.0 584.2,455.5 581.4,458.1 579.3,459.7 577.2,461.2 574.1,461.2 571.0,461.1 569.1,457.7 567.2,454.4 564.1,453.8 560.9,453.3 557.0,451.9 553.0,450.5 549.2,450.9 545.4,451.3 541.7,452.5 538.0,453.7Z"/>
<path fill="#e27a58" d="M497.5,355.4 499.8,350.8 500.3,346.3 503.7,346.0 507.0,345.8 510.4,345.5 513.8,345.3 517.1,345.0 520.5,344.7 519.9,341.5 523.1,342.2 526.2,341.9 529.4,341.6 532.5,341.2 535.7,340.9 538.8,340.6 541.9,340.2 545.4,340.1 549.0,339.9 552.5,339.7 556.0,339.5 559.1,339.1 562.3,338.8 565.5,338.4 568.7,338.0 571.8,337.6 575.0,337.2 578.2,336.8 581.3,336.4 584.8,336.0 588.3,335.5 591.8,335.1 595.2,334.6 598.7,334.1 602.2,333.7 605.7,333.2 609.1,332.7 608.0,335.5 606.9,338.2 605.3,342.1 602.9,343.3 600.4,344.6 598.0,345.8 595.4,348.0 592.8,350.1 589.6,352.3 586.3,354.4 583.5,355.3 580.8,356.2 579.1,360.0 575.8,362.3 575.9,365.8 572.9,366.3 569.9,366.7 566.8,367.1 563.8,367.5 560.8,367.9 557.7,368.3 554.3,368.6 551.0,369.0 547.6,369.3 544.2,369.6 540.9,369.9 537.5,370.2 534.1,370.5 530.7,370.7 527.3,371.0 524.0,371.3 520.6,371.5 517.3,371.8 513.9,372.0 510.6,372.3 507.2,372.5 503.9,372.8 500.6,373.0 497.2,373.2 493.9,373.4 490.6,373.7 493.2,369.9 494.4,366.3 495.6,362.6 496.6,359.0 497.5,355.4Z"/>
<path fill="#f6b490" d="M500.3,346.3 502.7,341.6 504.7,337.4 507.6,336.6 510.5,335.9 513.4,335.1 513.5,332.1 513.6,329.2 516.0,328.1 518.3,327.0 518.6,324.3 518.8,321.6 521.7,320.0 524.5,318.4 528.1,319.5 531.6,320.5 534.7,319.7 537.7,319.0 539.9,316.5 542.1,314.1 544.9,314.7 547.7,315.3 548.5,312.8 549.3,310.3 551.2,306.2 553.2,302.1 555.6,301.3 558.0,300.4 560.4,299.5 560.3,296.8 560.2,294.1 562.4,293.9 564.5,293.6 567.6,295.9 570.6,298.3 573.8,299.4 577.1,300.5 579.5,300.4 581.9,300.4 584.1,299.0 586.3,297.6 589.0,299.9 591.8,302.3 592.4,306.7 594.1,308.9 595.8,311.0 597.9,313.4 600.0,315.8 602.6,316.5 600.4,319.2 598.1,321.9 595.9,323.5 593.6,325.2 591.2,328.1 588.8,330.9 586.3,332.8 583.8,334.6 581.3,336.4 578.2,336.8 575.0,337.2 571.8,337.6 568.7,338.0 565.5,338.4 562.3,338.8 559.1,339.1 556.0,339.5 552.5,339.7 549.0,339.9 545.4,340.1 541.9,340.2 538.8,340.6 535.7,340.9 532.5,341.2 529.4,341.6 526.2,341.9 523.1,342.2 519.9,341.5 520.5,344.7 517.1,345.0 513.8,345.3 510.4,345.5 507.0,345.8 503.7,346.0 500.3,346.3Z"/>
<path fill="#5294c6" d="M469.9,278.8 471.8,274.5 473.7,270.2 474.2,267.1 474.7,263.9 477.9,261.1 481.0,258.2 483.5,256.3 484.3,253.6 485.0,250.9 483.3,248.3 481.6,245.7 479.9,243.2 478.2,240.6 481.2,240.4 484.3,240.3 487.3,240.1 490.4,239.9 493.4,239.7 496.5,239.5 499.5,239.3 502.6,239.1 505.7,238.9 508.7,238.6 511.8,238.4 514.8,238.2 516.5,242.4 518.2,246.6 518.8,249.2 519.5,251.8 519.9,256.0 520.3,260.2 520.6,264.3 521.0,268.5 521.4,272.7 521.8,276.8 522.1,281.0 522.5,285.2 522.9,289.3 523.3,293.5 523.3,297.1 524.0,300.6 524.6,304.1 524.2,307.3 523.8,310.4 522.0,313.3 520.2,316.1 519.5,318.9 518.8,321.6 518.6,324.3 518.3,327.0 516.0,328.1 513.6,329.2 513.5,332.1 513.4,335.1 510.5,335.9 507.6,336.6 504.7,337.4 502.0,334.7 499.2,332.0 498.2,327.6 495.2,324.7 492.3,321.8 489.4,319.3 486.5,316.8 487.0,313.6 487.5,310.5 487.6,307.8 487.8,305.1 485.4,304.8 483.0,304.5 481.5,301.5 479.9,298.4 476.7,295.5 473.5,292.5 471.7,289.0 469.8,285.6 469.9,282.2 469.9,278.8Z"/>
<path fill="#c8dff0" d="M518.8,321.6 519.5,318.9 520.2,316.1 522.0,313.3 523.8,310.4 524.2,307.3 524.6,304.1 524.0,300.6 523.3,297.1 523.3,293.5 522.9,289.3 522.5,285.2 522.1,281.0 521.8,276.8 521.4,272.7 521.0,268.5 520.6,264.3 520.3,260.2 519.9,256.0 519.5,251.8 521.7,252.3 524.0,252.9 526.3,251.4 528.7,249.9 531.6,249.7 534.5,249.6 537.5,249.4 540.4,249.2 543.3,249.0 546.3,248.8 549.2,248.6 552.1,248.4 555.0,248.1 555.5,252.3 556.0,256.5 556.5,260.7 556.9,264.9 557.4,269.0 557.9,273.2 558.3,277.4 558.8,281.6 559.3,285.8 559.7,290.0 560.2,294.1 560.3,296.8 560.4,299.5 558.0,300.4 555.6,301.3 553.2,302.1 551.2,306.2 549.3,310.3 548.5,312.8 547.7,315.3 544.9,314.7 542.1,314.1 539.9,316.5 537.7,319.0 534.7,319.7 531.6,320.5 528.1,319.5 524.5,318.4 521.7,320.0 518.8,321.6Z"/>
<path fill="#fbeee0" d="M560.2,294.1 559.7,290.0 559.3,285.8 558.8,281.6 558.3,277.4 557.9,273.2 557.4,269.0 556.9,264.9 556.5,260.7 556.0,256.5 555.5,252.3 555.0,248.1 558.0,247.7 560.9,247.3 563.8,246.8 566.7,246.3 569.6,245.9 572.5,245.4 574.9,246.3 577.3,247.1 579.5,248.1 581.6,249.2 583.6,249.4 585.6,249.5 588.8,248.2 591.9,246.8 593.8,246.5 595.8,246.2 598.0,243.6 600.3,241.0 602.6,239.3 605.0,237.6 607.3,236.5 609.7,235.4 610.3,239.3 611.0,243.2 611.6,247.2 612.2,251.1 612.9,255.0 613.5,258.9 613.2,263.3 613.1,266.9 613.0,270.6 612.5,273.8 612.0,277.0 609.7,279.9 607.5,282.8 604.7,284.8 601.9,286.7 601.8,290.3 599.9,291.5 598.0,292.7 597.4,295.5 596.7,298.3 594.3,300.3 591.8,302.3 589.0,299.9 586.3,297.6 584.1,299.0 581.9,300.4 579.5,300.4 577.1,300.5 573.8,299.4 570.6,298.3 567.6,295.9 564.5,293.6 562.4,293.9 560.2,294.1Z"/>
<path fill="#d0e2ef" d="M478.2,240.6 475.4,238.5 472.6,236.4 471.8,232.5 470.9,228.5 470.4,225.9 469.8,223.3 469.1,220.2 468.5,217.1 466.0,215.2 463.6,213.3 461.2,211.4 458.3,209.2 455.4,207.1 452.1,204.5 448.9,202.0 449.0,198.7 449.0,195.5 449.1,192.3 448.4,189.6 447.8,187.0 450.0,184.1 452.1,181.2 454.3,178.3 454.2,174.9 454.1,171.5 454.0,168.1 456.3,166.9 458.1,167.0 459.9,167.1 462.3,166.2 464.7,165.2 467.1,164.2 468.8,163.2 470.6,162.2 471.6,164.8 472.7,167.4 474.7,168.0 476.8,168.6 479.0,170.0 481.2,171.5 483.4,172.9 485.9,173.5 488.4,174.2 490.9,174.8 493.4,175.4 496.5,176.2 499.7,177.1 502.8,177.3 505.9,177.4 509.2,180.7 510.1,183.7 511.0,186.7 512.1,189.3 513.3,191.9 511.1,195.6 510.1,198.8 509.2,202.0 511.4,199.1 513.7,196.3 515.9,193.4 518.5,190.5 521.0,187.6 521.0,190.3 520.9,192.9 518.7,196.7 516.6,200.4 516.0,204.0 515.3,207.7 514.8,212.2 514.2,216.7 513.3,221.2 512.4,225.7 513.0,228.3 513.5,231.0 514.2,234.6 514.8,238.2 511.8,238.4 508.7,238.6 505.7,238.9 502.6,239.1 499.5,239.3 496.5,239.5 493.4,239.7 490.4,239.9 487.3,240.1 484.3,240.3 481.2,240.4 478.2,240.6Z"/>
<path fill="#bfd7ea" d="M513.3,191.9 512.1,189.3 511.0,186.7 510.1,183.7 509.2,180.7 505.9,177.4 502.8,177.3 499.7,177.1 496.5,176.2 493.4,175.4 490.9,174.8 488.4,174.2 485.9,173.5 483.4,172.9 481.2,171.5 479.0,170.0 476.8,168.6 478.8,167.1 480.8,165.6 482.8,164.1 485.6,163.4 488.4,162.6 491.2,161.8 492.9,159.9 494.5,158.0 496.8,155.8 499.0,153.6 501.3,151.4 503.7,151.2 506.1,151.0 504.4,152.4 502.7,153.9 501.4,157.1 500.2,160.2 502.9,160.5 505.7,160.7 509.0,163.9 512.3,167.2 515.4,166.9 518.4,166.6 521.5,166.7 524.6,166.9 527.4,164.8 530.2,162.8 533.2,161.6 536.1,160.4 539.1,160.0 542.1,159.7 544.9,162.0 547.6,164.3 550.6,163.5 553.5,162.7 555.8,166.0 558.1,169.2 556.4,170.5 554.7,171.8 552.3,172.6 549.9,173.3 547.5,174.1 545.6,173.4 543.7,172.8 541.2,173.4 538.8,173.9 536.4,174.5 533.7,175.7 530.9,176.9 528.1,178.0 526.2,180.0 524.2,182.0 520.8,178.8 518.5,180.7 516.2,182.7 514.8,187.3 513.3,191.9ZM528.7,249.9 530.5,246.7 532.2,243.5 533.6,240.7 534.9,237.9 534.9,234.3 534.8,230.7 532.9,227.4 530.9,224.0 530.2,219.6 529.4,215.2 530.2,210.7 531.0,206.2 531.9,202.5 532.8,198.9 535.5,195.0 538.3,191.2 541.1,194.4 540.7,190.9 540.3,187.4 542.6,185.3 544.9,183.3 545.1,180.2 545.4,177.0 547.8,176.2 550.4,177.5 553.1,178.9 555.7,180.2 558.3,181.1 560.9,181.9 563.5,182.8 565.2,186.1 566.9,189.4 567.2,193.9 567.5,198.3 565.7,201.6 563.9,205.0 563.1,208.7 562.3,212.4 564.8,209.4 567.3,206.3 570.3,205.0 573.3,203.7 576.0,206.5 578.6,209.3 579.8,213.3 581.0,217.3 582.2,221.3 582.4,224.8 582.6,228.4 580.4,231.0 578.1,233.5 576.9,236.4 575.6,239.3 574.1,242.3 572.5,245.4 569.6,245.9 566.7,246.3 563.8,246.8 560.9,247.3 558.0,247.7 555.0,248.1 552.1,248.4 549.2,248.6 546.3,248.8 543.3,249.0 540.4,249.2 537.5,249.4 534.5,249.6 531.6,249.7 528.7,249.9Z"/>
<path fill="#df6f4f" d="M613.5,258.9 613.2,263.3 613.1,266.9 613.0,270.6 612.5,273.8 612.0,277.0 609.7,279.9 607.5,282.8 604.7,284.8 601.9,286.7 601.8,290.3 599.9,291.5 598.0,292.7 597.4,295.5 596.7,298.3 594.3,300.3 591.8,302.3 592.4,306.7 594.1,308.9 595.8,311.0 597.9,313.4 600.0,315.8 602.6,316.5 604.9,319.2 607.2,322.0 610.6,321.0 614.0,320.0 616.2,318.3 618.4,316.6 620.8,315.6 623.2,314.6 625.6,313.6 627.1,309.8 628.5,305.9 630.1,301.1 631.7,296.3 634.0,295.5 636.3,294.6 637.8,291.2 639.2,287.7 642.0,283.6 644.0,279.6 646.0,275.6 648.5,276.1 651.0,276.5 653.8,279.0 654.6,275.4 652.1,271.7 649.6,271.3 647.1,270.9 644.2,273.3 642.1,273.2 640.0,273.1 638.3,274.8 636.5,276.5 634.1,279.2 631.6,281.9 631.0,278.8 630.5,275.8 630.0,272.7 627.2,273.2 624.5,273.7 621.7,274.2 618.9,274.6 616.2,275.1 615.5,271.0 614.9,267.0 614.2,263.0 613.5,258.9Z"/>
<path fill="#ef9a73" d="M581.3,336.4 584.8,336.0 588.3,335.5 591.8,335.1 595.2,334.6 598.7,334.1 602.2,333.7 605.7,333.2 609.1,332.7 612.5,332.2 615.9,331.7 619.2,331.2 622.6,330.7 626.0,330.2 629.3,329.6 632.7,329.1 636.0,328.5 639.4,328.0 642.7,327.4 646.1,326.9 649.4,326.3 652.8,325.7 656.1,325.1 659.5,324.5 662.8,323.9 666.2,323.3 669.5,322.6 672.8,322.0 676.2,321.3 679.5,320.7 682.8,320.0 686.2,319.3 689.5,318.7 688.2,315.8 686.8,312.9 684.5,312.9 682.1,312.9 679.8,308.9 680.3,306.0 680.8,303.2 679.8,300.2 678.8,297.3 678.3,294.6 676.0,293.8 673.7,292.9 670.6,291.7 667.6,290.5 665.5,290.4 663.4,290.4 665.4,286.4 665.3,282.7 662.7,280.2 660.3,278.6 657.9,277.0 654.6,275.4 653.8,279.0 651.0,276.5 648.5,276.1 646.0,275.6 644.0,279.6 642.0,283.6 639.2,287.7 637.8,291.2 636.3,294.6 634.0,295.5 631.7,296.3 630.1,301.1 628.5,305.9 627.1,309.8 625.6,313.6 623.2,314.6 620.8,315.6 618.4,316.6 616.2,318.3 614.0,320.0 610.6,321.0 607.2,322.0 604.9,319.2 602.6,316.5 600.4,319.2 598.1,321.9 595.9,323.5 593.6,325.2 591.2,328.1 588.8,330.9 586.3,332.8 583.8,334.6 581.3,336.4ZM692.4,291.0 690.8,295.3 689.2,299.6 687.7,304.0 686.2,308.4 685.4,305.9 684.6,303.3 684.4,298.8 684.3,294.3 687.0,293.2 689.7,292.1 692.4,291.0Z"/>
<path fill="#ed926b" d="M575.9,365.8 575.8,362.3 579.1,360.0 580.8,356.2 583.5,355.3 586.3,354.4 589.6,352.3 592.8,350.1 595.4,348.0 598.0,345.8 600.4,344.6 602.9,343.3 605.3,342.1 606.9,338.2 608.0,335.5 609.1,332.7 612.5,332.2 615.9,331.7 619.2,331.2 622.6,330.7 626.0,330.2 629.3,329.6 632.7,329.1 636.0,328.5 639.4,328.0 642.7,327.4 646.1,326.9 649.4,326.3 652.8,325.7 656.1,325.1 659.5,324.5 662.8,323.9 666.2,323.3 669.5,322.6 672.8,322.0 676.2,321.3 679.5,320.7 682.8,320.0 686.2,319.3 689.5,318.7 691.0,321.5 692.5,324.4 693.2,325.7 689.8,326.6 686.5,327.5 683.1,328.4 679.8,329.3 680.1,331.0 683.1,330.5 686.0,330.0 688.9,329.5 691.9,329.0 694.8,328.5 695.9,331.3 694.0,335.0 691.6,337.3 689.0,338.5 686.3,339.7 683.6,340.8 686.8,340.8 689.9,340.7 693.1,340.7 692.2,343.6 688.9,345.2 685.6,346.8 688.8,346.6 692.1,346.3 691.2,349.3 689.6,351.9 687.9,354.5 686.1,352.7 682.7,354.0 679.3,355.4 676.4,357.7 673.6,360.1 671.3,363.3 668.9,366.5 669.1,371.0 666.6,371.7 664.0,372.5 661.5,373.3 657.7,370.6 653.8,367.8 650.0,365.1 646.2,362.3 642.4,359.5 639.2,360.0 636.0,360.5 632.8,361.0 629.6,361.4 626.4,361.9 625.1,359.6 623.7,357.3 622.0,356.6 618.8,357.0 615.6,357.3 612.4,357.7 609.1,358.0 605.9,358.3 602.7,358.7 600.4,360.2 598.0,361.6 595.6,362.6 593.3,363.6 589.8,364.0 586.3,364.5 582.8,364.9 579.4,365.4 575.9,365.8Z"/>
<path fill="#cc4a3e" d="M593.3,363.6 595.6,362.6 598.0,361.6 600.4,360.2 602.7,358.7 605.9,358.3 609.1,358.0 612.4,357.7 615.6,357.3 618.8,357.0 622.0,356.6 623.7,357.3 625.1,359.6 626.4,361.9 629.6,361.4 632.8,361.0 636.0,360.5 639.2,360.0 642.4,359.5 646.2,362.3 650.0,365.1 653.8,367.8 657.7,370.6 661.5,373.3 658.7,376.5 655.9,379.7 655.0,383.1 654.1,386.4 651.6,389.1 649.1,391.8 647.3,394.3 645.5,396.9 642.9,399.1 640.2,401.4 638.3,403.5 636.4,405.6 634.8,408.3 633.2,411.0 631.2,410.4 628.5,407.8 626.2,405.0 623.9,402.2 622.7,399.3 621.5,396.3 617.2,392.5 615.2,390.3 613.3,388.2 610.4,385.2 607.5,382.2 605.1,380.3 602.6,378.4 600.4,375.6 598.2,372.8 594.3,371.5 590.8,368.8 592.0,366.2 593.3,363.6Z"/>
<path fill="#e2ebef" d="M618.5,228.7 616.6,230.1 614.6,231.5 612.1,233.5 609.7,235.4 610.3,239.3 611.0,243.2 611.6,247.2 612.2,251.1 612.9,255.0 613.5,258.9 614.2,263.0 614.9,267.0 615.5,271.0 616.2,275.1 618.9,274.6 621.7,274.2 624.5,273.7 627.2,273.2 630.0,272.7 633.2,272.2 636.5,271.6 639.7,271.0 643.0,270.4 646.2,269.8 649.5,269.2 652.7,268.5 656.0,267.9 659.2,267.3 662.5,266.6 665.7,265.9 669.0,265.3 672.2,264.6 675.4,263.9 678.7,263.2 680.7,260.6 683.4,260.7 684.9,259.5 686.4,258.2 688.4,255.0 690.4,251.9 688.1,250.6 685.7,249.3 683.0,246.2 683.0,243.0 683.0,239.8 684.8,235.7 686.6,231.5 683.6,230.6 681.6,227.8 679.7,225.1 675.7,222.3 672.6,223.0 669.5,223.7 666.4,224.4 663.2,225.0 660.1,225.7 657.0,226.3 653.9,226.9 650.7,227.6 647.6,228.2 644.5,228.8 641.3,229.4 638.2,230.0 635.1,230.6 631.9,231.2 628.8,231.7 625.7,232.3 622.5,232.9 619.4,233.4 619.0,231.0 618.5,228.7Z"/>
<path fill="#4484bd" d="M618.5,228.7 619.0,231.0 619.4,233.4 622.5,232.9 625.7,232.3 628.8,231.7 631.9,231.2 635.1,230.6 638.2,230.0 641.3,229.4 644.5,228.8 647.6,228.2 650.7,227.6 653.9,226.9 657.0,226.3 660.1,225.7 663.2,225.0 666.4,224.4 669.5,223.7 672.6,223.0 675.7,222.3 679.7,225.1 681.6,227.8 683.6,230.6 686.6,231.5 689.5,232.5 692.4,233.5 695.3,234.5 698.2,235.4 698.0,238.0 697.8,240.6 696.0,243.3 695.7,245.2 698.1,243.7 699.3,243.0 702.2,242.1 705.0,241.1 708.0,239.5 711.1,237.8 713.9,235.7 716.8,233.6 719.3,231.7 721.7,229.7 724.1,227.7 721.1,228.0 718.2,228.3 716.0,230.3 713.7,232.2 710.7,233.4 707.5,234.6 705.7,235.3 703.8,235.9 701.0,238.4 700.0,237.2 701.3,234.7 702.6,232.6 701.7,228.4 700.8,224.3 700.0,220.1 699.1,216.0 699.1,211.7 699.1,207.5 699.1,203.2 698.1,199.6 697.2,195.9 696.2,192.3 695.2,188.6 693.7,185.4 692.1,182.1 691.4,177.7 690.6,173.4 689.9,170.4 689.3,167.5 688.6,164.6 685.8,165.3 682.9,166.0 680.1,166.7 677.2,167.4 674.4,168.1 671.5,168.8 669.6,170.4 667.6,172.1 665.6,173.7 663.2,177.4 660.8,181.1 658.8,183.8 656.8,186.5 655.9,191.2 657.5,194.5 659.2,197.7 657.0,199.6 654.8,201.4 652.4,202.8 650.1,204.2 647.8,205.5 645.3,206.0 642.8,206.5 639.7,206.4 636.6,206.3 633.6,206.1 631.3,207.0 629.0,207.9 626.7,208.8 624.3,209.6 625.2,212.4 626.1,215.1 627.6,216.1 625.6,219.4 623.6,222.7 621.1,225.7 618.5,228.7Z"/>
<path fill="#eceeea" d="M686.6,231.5 684.8,235.7 683.0,239.8 683.0,243.0 683.0,246.2 685.7,249.3 688.1,250.6 690.4,251.9 688.4,255.0 686.4,258.2 684.9,259.5 683.4,260.7 682.3,265.5 685.1,268.0 688.1,269.0 691.1,270.0 692.3,272.2 693.5,274.4 695.9,269.8 697.3,266.7 698.7,263.7 699.7,260.7 700.7,257.7 700.3,254.6 700.0,251.5 699.7,248.3 699.4,245.2 697.6,245.2 695.7,245.2 696.0,243.3 697.8,240.6 698.0,238.0 698.2,235.4 695.3,234.5 692.4,233.5 689.5,232.5 686.6,231.5Z"/>
<path fill="#f7f0e1" d="M683.4,260.7 680.7,260.6 678.7,263.2 679.5,266.9 680.3,270.6 681.1,274.3 681.9,278.0 682.7,281.6 683.5,285.3 686.8,284.6 690.0,283.9 693.3,283.2 692.3,280.2 691.3,277.2 687.9,274.3 686.0,272.0 684.1,269.7 682.3,265.5 683.4,260.7Z"/>
<path fill="#dde8ef" d="M678.7,263.2 675.4,263.9 672.2,264.6 669.0,265.3 665.7,265.9 662.5,266.6 659.2,267.3 656.0,267.9 652.7,268.5 649.5,269.2 646.2,269.8 643.0,270.4 639.7,271.0 636.5,271.6 633.2,272.2 630.0,272.7 630.5,275.8 631.0,278.8 631.6,281.9 634.1,279.2 636.5,276.5 638.3,274.8 640.0,273.1 642.1,273.2 644.2,273.3 647.1,270.9 649.6,271.3 652.1,271.7 654.6,275.4 657.9,277.0 660.3,278.6 662.7,280.2 665.3,282.7 665.4,286.4 663.4,290.4 665.5,290.4 667.6,290.5 670.6,291.7 673.7,292.9 676.0,293.8 678.3,294.6 677.1,292.2 675.8,289.7 674.6,287.2 673.4,284.7 673.2,282.0 673.0,279.4 672.1,276.8 671.2,274.3 673.1,270.2 674.8,268.5 676.5,266.8 675.8,269.7 675.0,272.6 674.2,275.5 675.5,277.9 676.7,280.4 676.6,283.2 676.4,285.9 678.8,287.2 681.2,288.6 682.7,291.4 684.3,294.3 687.0,293.2 689.7,292.1 692.4,291.0 692.9,287.1 693.3,283.2 690.0,283.9 686.8,284.6 683.5,285.3 682.7,281.6 681.9,278.0 681.1,274.3 680.3,270.6 679.5,266.9 678.7,263.2Z"/>
<path fill="#3874b5" d="M701.3,234.7 703.9,232.7 706.6,230.7 708.2,229.2 709.9,227.7 712.5,227.0 715.0,226.4 717.4,225.3 719.9,224.2 723.1,223.4 722.8,220.9 722.5,218.4 721.5,214.8 720.6,211.2 717.5,211.9 714.4,212.6 711.4,213.3 708.3,214.0 705.2,214.7 702.2,215.3 699.1,216.0 700.0,220.1 700.8,224.3 701.7,228.4 702.6,232.6 701.3,234.7Z"/>
<path fill="#3170b2" d="M720.6,211.2 723.2,210.5 725.9,209.8 726.6,212.7 727.3,217.1 728.0,221.4 725.5,222.4 723.1,223.4 722.8,220.9 722.5,218.4 721.5,214.8 720.6,211.2Z"/>
<path fill="#2166ac" d="M699.1,216.0 702.2,215.3 705.2,214.7 708.3,214.0 711.4,213.3 714.4,212.6 717.5,211.9 720.6,211.2 723.2,210.5 725.9,209.8 726.6,212.7 729.5,214.3 731.8,217.8 734.1,216.2 737.1,214.9 739.5,213.8 742.2,212.4 744.8,210.9 745.3,209.3 743.1,209.5 740.3,210.3 737.4,211.1 735.7,208.4 732.5,205.6 728.7,203.9 729.9,200.8 731.3,198.9 732.6,196.9 730.4,195.1 728.9,193.3 726.4,195.6 723.8,197.8 720.8,198.5 717.9,199.2 715.0,199.8 712.1,200.5 709.2,201.1 706.6,201.6 704.1,202.2 701.6,202.7 699.1,203.2 699.1,207.5 699.1,211.7 699.1,216.0Z"/>
<path fill="#5e9dca" d="M699.1,203.2 701.6,202.7 704.1,202.2 706.6,201.6 709.2,201.1 708.0,198.9 706.9,196.7 706.7,192.2 706.5,187.7 707.9,182.7 708.1,179.5 708.2,176.3 708.9,171.5 710.3,169.3 711.7,167.1 711.2,162.7 710.8,158.9 708.1,159.7 705.3,160.4 702.5,161.1 699.7,161.8 697.0,162.5 694.2,163.2 691.4,163.9 688.6,164.6 689.3,167.5 689.9,170.4 690.6,173.4 691.4,177.7 692.1,182.1 693.7,185.4 695.2,188.6 696.2,192.3 697.2,195.9 698.1,199.6 699.1,203.2Z"/>
<path fill="#a3c9e3" d="M728.9,193.3 726.4,195.6 723.8,197.8 720.8,198.5 717.9,199.2 715.0,199.8 712.1,200.5 709.2,201.1 708.0,198.9 706.9,196.7 706.7,192.2 706.5,187.7 707.9,182.7 708.1,179.5 708.2,176.3 708.9,171.5 710.3,169.3 711.7,167.1 711.2,162.7 710.8,158.9 710.9,155.4 712.8,154.0 714.6,152.6 715.7,156.0 716.9,159.3 718.0,162.7 719.2,166.0 720.4,170.0 721.6,173.9 722.8,177.9 724.7,182.0 726.6,186.1 729.5,189.5 728.9,193.3Z"/>
<path fill="#a8cce5" d="M729.5,189.5 726.6,186.1 724.7,182.0 722.8,177.9 721.6,173.9 720.4,170.0 719.2,166.0 718.0,162.7 716.9,159.3 715.7,156.0 714.6,152.6 717.1,150.1 718.9,146.4 720.6,142.8 720.7,139.5 720.7,136.3 720.8,132.7 720.8,129.0 720.8,125.3 722.1,121.5 723.5,117.7 724.8,113.9 726.0,110.2 728.7,111.9 731.3,113.6 733.1,112.0 735.0,110.4 736.8,108.8 739.4,109.8 742.0,110.7 744.6,111.6 745.8,115.4 747.0,119.1 748.2,122.9 749.4,126.6 750.6,130.4 753.4,132.7 756.3,135.1 759.0,138.1 761.7,141.2 763.8,143.8 765.9,146.5 764.5,148.5 763.0,150.6 760.4,152.7 757.8,154.9 755.3,157.5 752.8,160.1 749.9,161.5 747.0,162.8 744.8,166.2 742.5,169.7 739.9,172.2 737.3,174.8 735.3,176.8 733.2,178.7 732.0,182.3 730.7,185.9 729.5,189.5Z"/>
<path fill="#e6eeee" stroke="none" d="M92.4,91.2 94.5,92.7 96.3,90.5 94.3,89.0Z"/>
<path fill="#2166ac" stroke="none" d="M736.2,219.2 737.9,217.9 739.6,216.6 740.7,218.1 738.9,218.8 737.0,219.5Z"/>
<path fill="#bfd7ea" d="M490.0,145.2 492.3,143.5 494.5,141.9 496.5,140.4 498.5,138.9 496.9,141.5 494.6,143.2 492.4,144.8Z"/>
<path fill="#80b4d7" stroke="none" d="M643.0,541.7 647.0,540.6 648.4,539.2 646.6,538.4 643.6,539.9Z"/>
<path fill="#3e7cb9" stroke="none" d="M65.7,349.6 68.2,350.3 70.6,350.9 68.2,351.5Z"/>
<path fill="#fff" stroke="none" d="M47.5,275.1 49.8,275.6 51.1,273.7 50.1,271.0 52.3,271.7 52.1,274.9 52.2,278.7 53.0,283.5 51.4,282.7 49.3,278.2 48.3,275.9Z"/>
<path fill="none" stroke="#fff" stroke-width="1.3" stroke-linecap="round" d="M679.8,302.0 678.3,301.3 676.7,300.6 675.1,299.8 673.7,298.8 672.2,297.7 670.8,296.6 669.3,295.6M679.7,308.0 678.3,307.3 677.0,306.5 675.6,305.7 674.0,304.5 672.3,303.2M681.3,312.6 680.0,312.1 678.8,311.6 677.5,311.2 676.2,310.8 674.8,310.4 673.5,310.0 672.2,309.5M678.2,294.3 676.9,293.8 675.6,293.2 674.4,292.7"/>
<path fill="#f9c9b3" d="M124.9,441.9 125.2,443.4 125.5,444.9 125.8,446.3 126.0,447.8 126.3,449.3 126.6,450.8 126.9,452.2 127.2,453.7 127.5,455.2 127.8,456.7 128.1,458.2 128.4,459.7 128.7,461.1 129.0,462.6 129.3,464.1 129.6,465.6 129.9,467.1 130.2,468.6 130.5,470.1 130.8,471.6 131.1,473.1 131.3,474.6 131.6,476.0 131.9,477.5 132.2,479.0 132.5,480.5 132.8,482.0 133.1,483.5 133.4,485.0 133.7,486.5 134.0,488.0 134.3,489.5 134.6,491.0 134.9,492.5 135.2,494.0 135.5,495.5 135.8,497.0 136.1,498.5 136.8,498.3 137.5,498.1 138.2,497.9 138.9,497.7 139.6,497.6 140.3,497.4 141.0,497.2 141.7,497.0 142.1,498.0 142.5,499.0 143.3,499.4 144.1,499.7 144.9,500.0 145.8,500.4 146.6,500.7 147.4,501.0 148.2,501.6 149.0,502.2 149.6,501.5 150.2,500.8 150.7,500.1 151.4,499.5 152.0,498.8 152.6,498.2 153.2,497.5 154.2,498.2 155.3,498.9 156.4,499.8 157.5,500.8 158.4,501.4 159.3,502.1 160.2,502.7 161.2,503.3 162.1,503.9 163.2,504.7 164.3,505.5 165.4,506.4 166.5,507.2 167.6,508.0 168.3,509.2 169.1,510.4 169.9,511.6 170.7,512.8 171.5,512.9 172.3,513.0 173.1,513.1 173.9,513.2 174.7,513.3 175.6,513.3 176.6,513.8 177.7,514.2 178.2,515.5 178.7,516.9 179.2,518.2 179.4,519.4 179.6,520.6 179.8,521.8 179.2,522.1 178.6,522.4 177.7,522.4 176.8,522.4 176.0,522.4 175.1,522.4 174.4,522.9 173.7,523.4 172.9,523.9 172.2,524.4 171.5,524.9 170.5,524.3 169.5,523.6 168.6,522.9 167.6,522.3 166.6,521.1 165.7,519.9 164.7,518.7 163.6,517.9 162.5,517.2 161.5,516.4 160.5,515.4 159.5,514.4 158.5,513.4 157.5,512.4 156.6,511.7 155.7,511.0 154.8,510.3 154.0,509.5 152.9,508.9 151.9,508.2 151.0,507.9 150.2,507.6 149.3,507.2 148.4,506.7 147.4,506.1 146.4,505.6 145.5,505.0 144.6,504.6 143.7,504.1 142.8,503.7 142.0,503.3 141.1,502.8 140.4,502.7 139.8,502.6 139.1,502.5 138.5,502.4 137.6,502.2 136.8,502.0 135.9,501.7 135.1,501.5 134.3,501.5 133.5,501.4 132.7,501.4 131.9,501.3 131.2,501.4 130.5,501.5 129.8,501.6 129.1,501.7 128.4,501.8 127.7,501.8 126.9,501.5 126.2,501.1 125.4,500.8 124.7,500.4 123.9,500.1 123.1,499.9 122.4,499.6 121.6,499.3 120.8,499.0 120.1,499.3 119.4,499.5 118.6,499.8 117.9,500.0 117.3,500.5 116.8,501.0 116.2,501.6 115.6,502.1 115.1,502.8 114.5,503.4 114.0,504.1 113.3,504.4 112.7,504.7 112.0,505.0 111.3,505.3 110.7,505.6 109.9,506.3 109.2,506.9 108.5,507.6 107.7,508.3 107.0,508.5 106.2,508.7 105.5,508.9 104.7,509.1 104.0,509.3 104.2,507.9 104.5,506.5 104.1,505.1 103.8,503.7 103.4,502.2 104.0,501.0 104.5,499.7 105.3,499.1 106.0,498.4 106.7,497.8 107.4,497.1 108.0,496.8 108.6,496.4 107.8,496.8 107.1,497.1 106.4,497.5 105.7,497.8 105.0,498.8 104.3,499.8 103.6,500.9 102.9,501.9 102.2,502.9 101.6,504.0 101.0,505.1 100.4,506.2 99.8,507.3 99.1,508.1 98.4,508.8 97.7,509.6 97.0,510.4 96.7,511.9 96.4,513.3 96.1,514.7 95.4,515.3 94.6,515.8 93.9,516.3 93.2,516.8 92.5,517.3 91.8,517.8 90.9,518.7 90.1,519.6 89.2,520.5 88.4,521.4 87.5,522.3 86.6,523.2 85.7,524.1 84.8,525.0 83.9,525.7 83.0,526.4 82.1,527.1 81.2,527.8 80.5,528.2 79.7,528.6 78.9,528.9 78.1,529.3 77.3,529.6 76.6,530.0 75.7,530.3 74.8,530.5 74.0,530.8 73.1,531.1 72.2,531.4 71.4,531.7 70.6,532.1 69.8,532.4 69.0,532.7 68.2,533.0 67.4,533.3 66.5,533.5 65.7,533.7 64.9,533.9 64.0,534.1 63.2,534.4 62.3,534.6 61.5,534.8 60.6,535.1 59.7,535.3 58.9,535.5 58.0,535.7 58.9,535.0 59.8,534.3 60.7,533.6 61.6,532.9 62.5,532.2 63.3,531.5 64.3,530.9 65.3,530.3 66.3,529.6 67.2,528.9 68.2,528.3 69.1,527.6 70.1,527.2 71.0,526.7 71.9,526.2 72.8,525.8 73.7,525.3 74.6,524.8 75.5,524.2 76.4,523.5 77.4,522.9 78.3,522.2 79.1,521.6 80.0,520.9 80.9,520.2 81.7,519.6 82.6,518.9 83.4,518.2 84.2,517.5 84.8,516.0 85.4,514.4 86.3,512.9 87.1,511.4 86.3,511.4 85.6,511.4 84.8,511.3 84.0,511.3 83.2,511.2 82.4,511.2 81.6,511.4 80.7,511.7 79.9,511.9 79.1,512.2 78.3,511.8 77.5,511.4 76.8,511.0 76.0,510.6 75.3,510.7 74.6,510.7 73.9,510.7 73.2,510.8 72.5,510.8 71.8,510.8 71.6,509.5 71.5,508.3 71.3,507.0 71.2,505.7 70.5,505.3 69.8,504.8 69.2,504.4 68.5,504.0 67.9,503.5 67.2,503.1 66.6,502.6 66.0,501.8 65.5,500.9 64.9,500.1 64.4,499.2 63.8,498.4 63.6,497.1 63.4,495.8 63.3,494.5 62.9,492.9 62.6,491.3 62.3,490.0 61.9,488.6 62.7,488.1 63.4,487.6 64.1,487.1 64.9,486.6 65.6,486.1 66.3,484.8 67.0,483.4 67.7,482.1 68.3,482.3 69.0,482.5 69.7,482.7 70.3,482.9 71.0,483.1 71.7,483.3 72.4,483.0 73.2,482.7 73.9,482.3 74.7,482.0 75.4,481.7 76.1,481.3 76.6,480.2 77.1,479.0 77.5,477.8 78.0,476.6 78.4,475.4 78.8,474.2 78.1,474.4 77.5,474.5 76.8,474.7 76.2,474.9 75.5,475.0 74.9,474.9 74.2,474.8 73.5,474.6 72.9,474.5 72.2,474.4 71.6,474.2 70.9,474.2 70.3,474.2 69.6,474.2 68.9,474.2 68.2,474.2 67.6,474.2 67.0,474.0 66.5,473.7 65.9,473.5 65.4,473.2 64.9,473.0 64.3,472.7 64.0,471.4 63.6,470.0 63.2,468.7 62.8,468.1 62.3,467.5 61.9,466.9 61.4,466.3 61.0,465.7 61.6,465.5 62.2,465.2 62.8,465.0 63.4,464.7 64.1,464.5 64.8,464.1 65.5,463.8 66.2,463.5 66.9,463.1 67.6,462.9 68.2,462.6 68.9,462.4 69.6,462.1 70.3,461.9 70.9,461.6 71.3,462.4 71.7,463.2 72.1,463.9 72.5,464.7 73.1,464.8 73.7,464.8 74.3,464.9 74.9,465.0 75.5,465.1 76.1,465.2 76.7,465.2 77.2,464.1 77.7,462.9 77.3,462.1 76.9,461.2 76.5,460.4 76.2,459.6 75.6,459.4 75.0,459.2 74.5,459.0 73.9,458.8 73.4,458.6 73.0,457.8 72.6,456.9 72.3,456.1 71.9,455.3 71.4,454.6 71.0,453.9 70.5,453.2 70.0,452.5 69.6,452.0 69.2,451.6 68.7,451.1 68.3,450.7 67.9,450.2 67.4,449.8 68.1,448.8 68.8,447.8 69.4,446.8 70.0,446.8 70.5,446.9 71.1,446.9 71.6,447.0 72.2,447.1 72.7,447.1 73.2,447.2 73.8,447.2 74.3,447.3 75.0,446.5 75.7,445.8 76.4,445.0 77.0,444.3 77.7,443.3 78.4,442.3 79.0,441.3 79.7,440.3 80.3,440.1 80.8,439.8 81.4,439.6 82.0,439.4 82.5,439.1 83.1,438.9 83.6,438.6 84.2,438.4 84.7,438.2 85.2,438.1 85.8,437.9 86.3,437.8 86.8,437.6 87.4,437.5 87.9,437.3 88.4,437.2 89.0,436.6 89.5,436.0 90.0,435.4 90.5,434.9 91.0,434.3 91.5,434.5 91.9,434.8 92.3,435.1 92.8,435.3 93.2,435.6 93.6,435.9 94.1,436.1 94.7,436.3 95.2,436.5 95.7,436.7 96.2,436.9 96.7,437.1 97.2,437.2 97.7,437.2 98.3,437.3 98.8,437.3 99.3,437.3 99.8,437.4 100.3,437.8 100.9,438.2 101.4,438.5 101.9,438.9 102.5,439.3 103.0,439.7 103.6,439.6 104.1,439.6 104.6,439.5 105.1,439.4 105.6,439.4 106.2,439.3 106.7,439.2 107.2,439.1 107.8,439.3 108.3,439.6 108.9,439.8 109.4,440.0 110.0,440.2 110.5,440.4 111.0,440.5 111.6,440.6 112.1,440.7 112.7,440.8 113.2,440.8 113.8,440.9 114.3,441.0 114.9,441.1 115.4,441.0 115.9,440.9 116.5,440.8 117.0,440.7 117.5,440.5 118.0,440.4 118.6,440.3 119.1,440.2 119.7,440.4 120.2,440.6 120.8,440.7 121.4,440.9 122.0,441.1 122.5,441.3 123.1,441.4 123.7,441.6 124.3,441.8 124.9,441.9ZM94.0,520.9 94.9,521.3 95.7,521.8 96.5,522.2 97.4,522.6 98.2,523.0 99.1,523.4 99.9,522.6 100.7,521.9 101.4,521.1 102.2,520.4 103.0,519.6 102.6,518.4 102.3,517.2 101.9,515.9 101.1,515.8 100.3,515.6 99.5,515.5 98.7,515.4 97.8,516.0 97.0,516.6 96.2,517.2 95.4,517.8ZM58.6,498.4 59.3,498.3 60.0,498.1 60.7,498.0 61.4,497.9 62.0,497.7 62.7,497.6 62.3,499.1 61.8,500.6 61.3,502.1 60.7,501.9 60.0,501.8 59.4,501.7 58.7,501.6 58.0,501.5 57.4,501.3ZM48.7,474.8 49.2,475.2 49.8,475.5 50.3,475.9 50.9,476.3 51.4,476.7 52.0,477.0 52.6,477.4 53.1,477.7 53.7,478.1 54.3,478.5 54.8,478.7 55.3,478.9 55.8,479.1 56.3,479.3 55.6,479.6 54.9,479.9 54.2,480.2 53.5,480.5 52.9,480.1 52.4,479.6 51.8,479.1 51.2,478.7 50.7,478.2 50.1,477.8 49.7,477.5 49.2,477.2 48.7,476.9 48.2,476.6ZM52.2,537.2 53.1,537.2 54.0,537.1 54.9,537.1 53.9,538.4 52.9,539.8 52.1,539.9 51.2,539.9 50.4,540.0 49.6,540.0 48.8,540.1 47.9,540.1 47.3,540.3 46.7,540.5ZM41.1,541.8 42.2,541.4 43.2,541.0 44.2,540.6 45.3,540.2 44.4,541.0 43.4,541.7ZM35.2,542.3 36.2,542.1 37.1,541.9 38.1,541.7 37.0,542.7 36.0,543.8ZM23.8,541.0 24.7,541.3 25.6,541.6 26.5,541.8 27.4,542.1 26.3,542.4 25.3,542.7ZM12.2,539.8 13.1,540.1 14.0,540.4 14.9,540.7 15.8,541.1 14.7,541.3 13.6,541.6ZM4.7,537.7 5.7,537.9 6.7,538.1 7.6,538.3 8.6,538.5 7.3,539.0 6.1,539.6Z"/>
<path fill="#f9e1d0" d="M262.5,518.3 266.1,520.0 269.7,521.6 273.3,523.3 276.7,527.5 280.1,531.7 276.8,535.3 273.4,537.5 270.1,539.8 266.8,542.0 264.3,540.4 261.8,538.9 261.3,534.5 260.9,530.1 259.2,526.6ZM248.4,506.4 252.5,506.9 256.2,507.9 260.0,509.0 256.7,512.5 252.5,512.9 251.7,509.4 248.4,509.0ZM248.4,512.5 250.9,513.4 249.2,514.3ZM242.6,507.3 245.9,507.6 244.2,509.9ZM238.4,501.6 241.4,501.9 244.5,502.2 247.5,502.5 247.5,504.1 244.5,504.0 241.4,503.9 238.4,503.7ZM222.2,495.3 224.9,494.2 227.7,493.2 230.1,496.7 232.6,500.2 228.9,500.2 225.2,500.2 222.7,497.6ZM198.0,485.1 201.3,484.5 204.6,484.0 205.0,486.3 205.4,488.7 202.9,489.3 200.4,489.9 197.5,487.7ZM189.7,488.5 193.0,487.7 192.2,491.2Z"/>
</g>
<g>
<text class="lb" transform="translate(117.5,123.0) scale(0.9,1)">29</text>
<text class="lb2" transform="translate(117.5,123.0) scale(0.9,1)">29</text>
<text class="lb" transform="translate(101.5,182.5) scale(0.9,1)">45</text>
<text class="lb2" transform="translate(101.5,182.5) scale(0.9,1)">45</text>
<text class="lb" transform="translate(170,200.0) scale(0.9,1)">13</text>
<text class="lb2" transform="translate(170,200.0) scale(0.9,1)">13</text>
<text class="lb" transform="translate(244,155.0) scale(0.9,1)">15</text>
<text class="lb2" transform="translate(244,155.0) scale(0.9,1)">15</text>
<text class="lb" transform="translate(355,157.5) scale(0.9,1)">6</text>
<text class="lb2" transform="translate(355,157.5) scale(0.9,1)">6</text>
<text class="lw" transform="translate(355.5,210.5) scale(0.9,1)">3</text>
<text class="lw2" transform="translate(355.5,210.5) scale(0.9,1)">3</text>
<text class="lb" transform="translate(260.5,228.5) scale(0.9,1)">19</text>
<text class="lb2" transform="translate(260.5,228.5) scale(0.9,1)">19</text>
<text class="lb" transform="translate(358.5,263.0) scale(0.9,1)">17</text>
<text class="lb2" transform="translate(358.5,263.0) scale(0.9,1)">17</text>
<text class="lb" transform="translate(132,271.0) scale(0.9,1)">41</text>
<text class="lb2" transform="translate(132,271.0) scale(0.9,1)">41</text>
<text class="lb" transform="translate(194,289.0) scale(0.9,1)">5</text>
<text class="lb2" transform="translate(194,289.0) scale(0.9,1)">5</text>
<text class="lb" transform="translate(279,302.0) scale(0.9,1)">39</text>
<text class="lb2" transform="translate(279,302.0) scale(0.9,1)">39</text>
<text class="lb" transform="translate(376,317.0) scale(0.9,1)">18</text>
<text class="lb2" transform="translate(376,317.0) scale(0.9,1)">18</text>
<text class="lb" transform="translate(81,312.0) scale(0.9,1)">47</text>
<text class="lb2" transform="translate(81,312.0) scale(0.9,1)">47</text>
<text class="lb" transform="translate(183.5,373.5) scale(0.9,1)">36</text>
<text class="lb2" transform="translate(183.5,373.5) scale(0.9,1)">36</text>
<text class="lb" transform="translate(263,380.5) scale(0.9,1)">27</text>
<text class="lb2" transform="translate(263,380.5) scale(0.9,1)">27</text>
<text class="lb" transform="translate(387,371.5) scale(0.9,1)">9</text>
<text class="lb2" transform="translate(387,371.5) scale(0.9,1)">9</text>
<text class="lb" transform="translate(425,175.5) scale(0.9,1)">42</text>
<text class="lb2" transform="translate(425,175.5) scale(0.9,1)">42</text>
<text class="lb" transform="translate(484,205.0) scale(0.9,1)">33</text>
<text class="lb2" transform="translate(484,205.0) scale(0.9,1)">33</text>
<text class="lb" transform="translate(549,226.0) scale(0.9,1)">35</text>
<text class="lb2" transform="translate(549,226.0) scale(0.9,1)">35</text>
<text class="lb" transform="translate(441.5,253.5) scale(0.9,1)">25</text>
<text class="lb2" transform="translate(441.5,253.5) scale(0.9,1)">25</text>
<text class="lb" transform="translate(499.5,284.0) scale(0.9,1)">44</text>
<text class="lb2" transform="translate(499.5,284.0) scale(0.9,1)">44</text>
<text class="lb" transform="translate(539.5,286.0) scale(0.9,1)">34</text>
<text class="lb2" transform="translate(539.5,286.0) scale(0.9,1)">34</text>
<text class="lb" transform="translate(582.5,276.5) scale(0.9,1)">23</text>
<text class="lb2" transform="translate(582.5,276.5) scale(0.9,1)">23</text>
<text class="lb" transform="translate(453.5,318.5) scale(0.9,1)">20</text>
<text class="lb2" transform="translate(453.5,318.5) scale(0.9,1)">20</text>
<text class="lb" transform="translate(561.5,322.5) scale(0.9,1)">14</text>
<text class="lb2" transform="translate(561.5,322.5) scale(0.9,1)">14</text>
<text class="lb" transform="translate(617,296.5) scale(0.9,1)">7</text>
<text class="lb2" transform="translate(617,296.5) scale(0.9,1)">7</text>
<text class="lb" transform="translate(651.5,307.0) scale(0.9,1)">11</text>
<text class="lb2" transform="translate(651.5,307.0) scale(0.9,1)">11</text>
<text class="lb" transform="translate(545,358.0) scale(0.9,1)">8</text>
<text class="lb2" transform="translate(545,358.0) scale(0.9,1)">8</text>
<text class="lb" transform="translate(659,348.5) scale(0.9,1)">10</text>
<text class="lb2" transform="translate(659,348.5) scale(0.9,1)">10</text>
<text class="lb" transform="translate(648.5,252.0) scale(0.9,1)">30</text>
<text class="lb2" transform="translate(648.5,252.0) scale(0.9,1)">30</text>
<text class="lb" transform="translate(690,244.5) scale(0.9,1)">28</text>
<text class="lb2" transform="translate(690,244.5) scale(0.9,1)">28</text>
<text class="lb" transform="translate(665.5,277.0) scale(0.9,1)">31</text>
<text class="lb2" transform="translate(665.5,277.0) scale(0.9,1)">31</text>
<text class="lb" transform="translate(686.5,283.5) scale(0.9,1)">26</text>
<text class="lb2" transform="translate(686.5,283.5) scale(0.9,1)">26</text>
<text class="lb" transform="translate(677,200.5) scale(0.9,1)">46</text>
<text class="lb2" transform="translate(677,200.5) scale(0.9,1)">46</text>
<text class="lb" transform="translate(700,179.5) scale(0.9,1)">43</text>
<text class="lb2" transform="translate(700,179.5) scale(0.9,1)">43</text>
<text class="lb" transform="translate(737,142.0) scale(0.9,1)">37</text>
<text class="lb2" transform="translate(737,142.0) scale(0.9,1)">37</text>
<text class="lwb" transform="translate(719,208.5) scale(0.9,1)">50</text>
<text class="lwb2" transform="translate(719,208.5) scale(0.9,1)">50</text>
<text class="lb" transform="translate(456.5,383.0) scale(0.9,1)">12</text>
<text class="lb2" transform="translate(456.5,383.0) scale(0.9,1)">12</text>
<text class="lw" transform="translate(630,383.5) scale(0.9,1)">4</text>
<text class="lw2" transform="translate(630,383.5) scale(0.9,1)">4</text>
<text class="lb" transform="translate(367.5,449.0) scale(0.9,1)">21</text>
<text class="lb2" transform="translate(367.5,449.0) scale(0.9,1)">21</text>
<text class="lb" transform="translate(458.5,434.5) scale(0.9,1)">24</text>
<text class="lb2" transform="translate(458.5,434.5) scale(0.9,1)">24</text>
<text class="lw" transform="translate(501.5,414.0) scale(0.9,1)">1</text>
<text class="lw2" transform="translate(501.5,414.0) scale(0.9,1)">1</text>
<text class="lw" transform="translate(544.5,412.5) scale(0.9,1)">2</text>
<text class="lw2" transform="translate(544.5,412.5) scale(0.9,1)">2</text>
<text class="lb" transform="translate(594,411.0) scale(0.9,1)">32</text>
<text class="lb2" transform="translate(594,411.0) scale(0.9,1)">32</text>
<text class="lb" transform="translate(633,481.5) scale(0.9,1)">40</text>
<text class="lb2" transform="translate(633,481.5) scale(0.9,1)">40</text>
<text class="lb" transform="translate(267.5,534.0) scale(0.9,1)">22</text>
<text class="lb2" transform="translate(267.5,534.0) scale(0.9,1)">22</text>
<text class="lb" transform="translate(93,476.0) scale(0.9,1)">16</text>
<text class="lb2" transform="translate(93,476.0) scale(0.9,1)">16</text>
</g>

<g id="logo">
<path fill="#111" d="M644.25,545.3 L658,557.8 L658,574.9 L644.25,587.8 L630.9,574.9 L630.9,557.8 Z"/>
<path fill="#fff" d="M630.5,566.3 Q644.25,555.3 658.4,566.3 Q644.25,577.3 630.5,566.3 Z"/>
<g stroke="#fff" stroke-width="1.15" stroke-linecap="butt">
<line x1="644.25" y1="545" x2="644.25" y2="561"/>
<line x1="637.2" y1="552.6" x2="640.6" y2="561.2"/>
<line x1="651.3" y1="552.6" x2="647.9" y2="561.2"/>
<line x1="630.9" y1="559.3" x2="636.2" y2="562.7"/>
<line x1="657.6" y1="559.3" x2="652.3" y2="562.7"/>
<line x1="644.25" y1="588" x2="644.25" y2="571.6"/>
<line x1="637.2" y1="580.2" x2="640.6" y2="571.4"/>
<line x1="651.3" y1="580.2" x2="647.9" y2="571.4"/>
<line x1="630.9" y1="573.5" x2="636.2" y2="570.0"/>
<line x1="657.6" y1="573.5" x2="652.3" y2="570.0"/>
</g>
<path fill="none" stroke="#1a1a1a" stroke-width="1.1" d="M646.7,562.8 A4.5,4.5 0 1 0 646.7,569.8"/>
<path fill="none" stroke="#1a1a1a" stroke-width="0.9" d="M645.7,564.1 A2.9,2.9 0 1 0 645.7,568.5"/>
<text x="661.6" y="563.9" style="font-family:'Liberation Sans',sans-serif;font-weight:bold;font-size:9.8px;fill:#111;text-anchor:start;" textLength="122" lengthAdjust="spacingAndGlyphs">CULTURAL CURRENTS</text>
<text x="661.6" y="575.9" style="font-family:'Liberation Sans',sans-serif;font-size:11px;fill:#8a8a8a;text-anchor:start;" textLength="121" lengthAdjust="spacing">INSTITUTE</text>
</g>
</svg>
</body></html>
